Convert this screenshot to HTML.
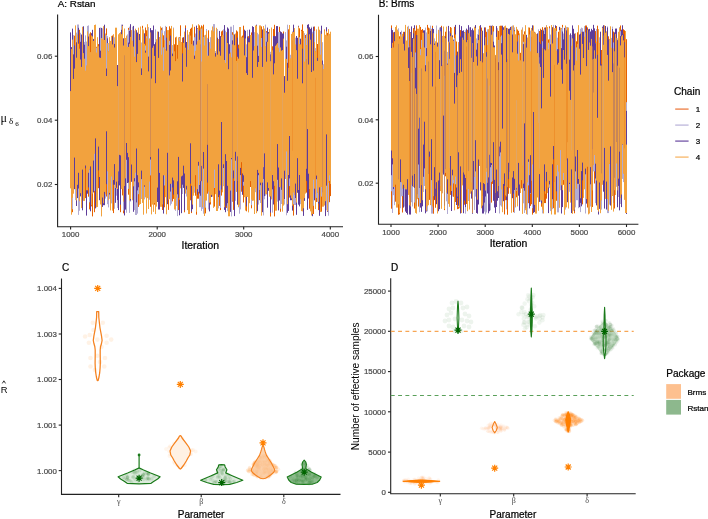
<!DOCTYPE html>
<html><head><meta charset="utf-8"><style>
html,body{margin:0;padding:0;background:#fff;width:708px;height:519px;overflow:hidden}
svg{display:block;filter:blur(0.35px)}
text{font-family:"Liberation Sans",sans-serif}
</style></head><body>
<svg width="708" height="519" viewBox="0 0 708 519">
<path d="M70.5 114.0V159.8M71.5 53.5V174.1M72.5 105.8V212.2M73.5 70.4V185.7M74.5 35.7V178.6M75.5 45.9V165.0M76.5 55.5V199.7M77.5 48.0V169.7M78.5 62.6V172.2M79.5 29.8V208.5M80.5 73.5V165.5M81.5 81.9V204.7M82.5 44.2V185.1M83.5 64.6V180.4M84.5 47.2V198.1M85.5 61.3V198.1M86.5 59.3V142.5M87.5 48.2V183.1M88.5 33.4V196.7M89.5 102.4V209.4M90.5 32.3V168.5M91.5 61.9V206.4M92.5 59.4V216.4M93.5 66.7V168.6M94.5 41.4V212.2M95.5 45.9V198.6M96.5 46.8V149.7M97.5 47.4V188.2M98.5 44.1V188.2M99.5 32.6V176.2M100.5 32.9V182.5M101.5 34.9V146.2M102.5 71.8V199.9M103.5 28.7V175.5M104.5 55.8V190.7M105.5 65.3V188.0M106.5 28.4V196.5M107.5 70.9V191.0M108.5 73.6V183.1M109.5 49.4V166.7M110.5 64.4V200.9M111.5 45.4V203.0M112.5 35.5V191.5M113.5 54.3V213.1M114.5 58.2V202.8M115.5 32.7V169.4M116.5 92.2V179.2M117.5 108.3V205.5M118.5 90.4V188.6M119.5 57.7V184.8M120.5 36.8V212.2M121.5 36.8V176.3M122.5 59.4V195.4M123.5 75.9V213.3M124.5 32.1V139.9M125.5 47.4V178.1M126.5 63.2V189.5M127.5 61.0V161.4M128.5 27.9V194.7M129.5 68.1V194.7M130.5 27.6V184.9M131.5 30.9V133.5M132.5 74.9V199.3M133.5 31.1V210.0M134.5 110.5V202.2M135.5 29.7V140.5M136.5 30.4V168.0M137.5 44.6V194.0M138.5 47.3V206.9M139.5 42.8V203.8M140.5 56.1V180.2M141.5 49.5V198.6M142.5 25.8V165.4M143.5 80.7V206.7M144.5 54.4V174.2M145.5 27.5V195.5M146.5 30.3V161.5M147.5 73.4V170.4M148.5 27.5V165.6M149.5 45.0V166.9M150.5 60.6V206.8M151.5 53.7V176.2M152.5 65.1V142.4M153.5 28.1V191.0M154.5 65.3V204.7M155.5 62.8V193.4M156.5 60.7V157.9M157.5 34.5V151.7M158.5 95.9V208.6M159.5 50.9V207.7M160.5 37.4V193.3M161.5 27.8V182.5M162.5 67.6V210.0M163.5 35.3V190.4M164.5 57.4V207.3M165.5 26.4V166.4M166.5 26.9V175.5M167.5 58.6V162.0M168.5 65.2V209.9M169.5 26.3V173.0M170.5 28.5V169.3M171.5 62.1V195.0M172.5 50.6V201.4M173.5 54.3V198.9M174.5 44.3V196.3M175.5 37.4V183.4M176.5 53.5V189.6M177.5 44.9V180.7M178.5 54.4V210.1M179.5 37.1V174.8M180.5 25.3V162.1M181.5 47.4V144.5M182.5 37.6V190.6M183.5 44.2V183.5M184.5 45.2V212.3M185.5 25.4V190.5M186.5 58.1V180.6M187.5 32.6V200.9M188.5 42.3V184.7M189.5 82.0V207.2M190.5 28.8V200.3M191.5 27.7V213.1M192.5 35.8V207.9M193.5 43.4V182.0M194.5 26.8V143.1M195.5 38.5V195.7M196.5 30.1V214.7M197.5 28.1V198.7M198.5 62.5V198.7M199.5 25.4V170.3M200.5 36.0V174.6M201.5 25.4V155.2M202.5 37.8V180.0M203.5 24.7V190.6M204.5 46.5V213.4M205.5 43.0V213.4M206.5 36.1V168.5M207.5 54.4V193.7M208.5 30.3V203.3M209.5 55.2V194.9M210.5 62.2V204.5M211.5 41.5V164.1M212.5 32.4V164.2M213.5 32.0V178.4M214.5 87.1V206.6M215.5 51.1V159.6M216.5 78.4V205.4M217.5 82.6V201.8M218.5 48.7V201.8M219.5 48.7V205.9M220.5 76.4V210.1M221.5 31.4V195.6M222.5 30.5V190.1M223.5 35.8V167.7M224.5 59.5V182.1M225.5 76.5V208.8M226.5 43.6V207.9M227.5 29.4V144.2M228.5 52.5V167.1M229.5 93.3V201.4M230.5 40.0V167.2M231.5 41.5V131.8M232.5 32.2V175.7M233.5 35.8V209.9M234.5 44.9V180.5M235.5 62.0V155.9M236.5 30.4V145.8M237.5 31.5V183.6M238.5 44.7V192.3M239.5 87.9V188.2M240.5 43.1V191.7M241.5 70.9V191.7M242.5 35.6V176.7M243.5 25.7V202.5M244.5 81.4V186.7M245.5 37.6V192.2M246.5 49.6V211.3M247.5 32.9V164.9M248.5 36.2V182.2M249.5 46.7V194.4M250.5 36.9V187.0M251.5 32.4V208.3M252.5 36.3V124.4M253.5 62.3V173.3M254.5 62.2V213.7M255.5 26.3V152.5M256.5 59.0V168.7M257.5 35.9V202.6M258.5 57.6V202.6M259.5 36.7V200.2M260.5 50.7V200.2M261.5 26.4V190.6M262.5 37.8V199.7M263.5 27.5V200.4M264.5 29.6V171.8M265.5 41.5V153.5M266.5 31.1V194.3M267.5 67.3V169.8M268.5 50.8V184.3M269.5 59.5V168.7M270.5 104.9V216.5M271.5 61.5V164.2M272.5 46.3V157.0M273.5 29.0V186.9M274.5 24.8V216.4M275.5 45.5V184.0M276.5 47.0V165.4M277.5 78.1V186.5M278.5 87.6V188.1M279.5 26.8V170.0M280.5 55.5V211.8M281.5 32.4V179.8M282.5 92.7V207.1M283.5 31.5V159.6M284.5 95.0V197.0M285.5 63.8V143.6M286.5 54.8V203.3M287.5 34.6V209.8M288.5 29.3V207.1M289.5 39.5V197.6M290.5 61.6V162.3M291.5 62.8V177.6M292.5 40.4V150.7M293.5 27.3V215.6M294.5 36.9V174.5M295.5 45.1V189.8M296.5 57.3V174.1M297.5 94.8V179.5M298.5 28.3V191.2M299.5 28.3V185.6M300.5 49.3V165.0M301.5 29.8V184.9M302.5 24.4V172.1M303.5 32.3V188.8M304.5 47.0V197.3M305.5 35.0V185.4M306.5 52.1V192.6M307.5 48.7V197.8M308.5 82.4V190.4M309.5 94.3V208.7M310.5 35.2V165.1M311.5 56.0V168.7M312.5 37.0V190.0M313.5 42.0V214.0M314.5 26.5V197.9M315.5 77.8V193.8M316.5 48.2V202.0M317.5 44.0V152.2M318.5 44.0V210.1M319.5 36.7V167.4M320.5 49.9V211.7M321.5 28.4V211.7M322.5 68.2V182.6M323.5 71.3V173.9M324.5 29.5V173.9M325.5 56.4V203.0M326.5 32.9V191.7M327.5 32.9V170.0M328.5 43.3V212.6M329.5 83.0V202.2M330.5 35.7V196.1" stroke="#E66101" stroke-width="1.0" fill="none"/><path d="M70.5 73.6V164.4M71.5 69.0V194.8M72.5 28.2V209.3M73.5 35.1V158.2M74.5 51.1V179.7M75.5 32.6V200.1M76.5 32.6V155.8M77.5 24.5V164.2M78.5 24.5V214.9M79.5 55.7V210.8M80.5 32.8V188.3M81.5 61.2V180.1M82.5 26.7V181.1M83.5 60.7V182.9M84.5 41.9V161.7M85.5 35.4V151.0M86.5 41.6V182.2M87.5 25.9V187.2M88.5 25.4V137.3M89.5 37.8V202.3M90.5 54.0V202.3M91.5 54.0V196.7M92.5 47.6V188.3M93.5 44.3V189.1M94.5 45.0V190.9M95.5 47.5V184.3M96.5 47.6V203.5M97.5 38.3V185.4M98.5 67.7V163.3M99.5 49.4V191.9M100.5 27.5V160.5M101.5 58.3V171.1M102.5 28.4V164.8M103.5 56.9V162.4M104.5 64.7V198.4M105.5 52.2V198.6M106.5 35.0V165.3M107.5 36.2V204.2M108.5 43.0V207.4M109.5 42.7V198.9M110.5 55.4V152.3M111.5 36.0V203.4M112.5 70.2V206.4M113.5 69.9V159.7M114.5 37.3V208.8M115.5 36.6V182.0M116.5 55.4V195.7M117.5 82.6V208.0M118.5 61.6V181.2M119.5 46.8V182.4M120.5 73.1V201.3M121.5 24.6V169.2M122.5 73.7V186.2M123.5 77.3V210.6M124.5 38.0V194.9M125.5 71.5V172.7M126.5 56.0V212.8M127.5 34.4V170.4M128.5 29.8V188.9M129.5 26.7V212.9M130.5 60.8V201.6M131.5 36.3V173.3M132.5 26.7V165.5M133.5 63.3V184.3M134.5 30.6V210.1M135.5 30.6V215.0M136.5 46.5V215.0M137.5 57.4V213.6M138.5 69.6V194.2M139.5 47.5V177.6M140.5 42.5V203.7M141.5 42.5V198.6M142.5 32.1V193.1M143.5 29.4V193.1M144.5 49.4V199.4M145.5 45.5V179.1M146.5 36.2V161.2M147.5 36.2V157.6M148.5 27.8V188.5M149.5 58.4V199.8M150.5 46.1V175.4M151.5 30.9V200.8M152.5 30.9V149.2M153.5 48.3V211.3M154.5 45.7V180.1M155.5 29.4V156.7M156.5 45.3V182.7M157.5 59.0V185.5M158.5 89.0V196.2M159.5 49.2V167.6M160.5 84.4V167.9M161.5 30.2V168.6M162.5 27.3V199.5M163.5 47.4V196.2M164.5 31.2V185.5M165.5 25.9V176.9M166.5 39.0V159.8M167.5 45.7V183.1M168.5 34.9V174.9M169.5 40.8V188.8M170.5 64.3V205.5M171.5 36.0V203.8M172.5 45.1V183.6M173.5 27.5V149.0M174.5 68.3V192.2M175.5 65.6V210.9M176.5 56.3V205.9M177.5 65.1V216.1M178.5 81.3V190.9M179.5 37.6V179.9M180.5 52.9V175.0M181.5 79.9V198.9M182.5 90.6V194.0M183.5 62.2V135.1M184.5 41.5V179.6M185.5 41.5V161.2M186.5 88.4V196.5M187.5 49.7V192.2M188.5 34.6V168.6M189.5 55.7V201.3M190.5 52.0V175.5M191.5 58.7V200.4M192.5 60.5V200.4M193.5 48.4V192.7M194.5 37.3V192.7M195.5 33.5V148.6M196.5 31.8V209.4M197.5 28.8V182.4M198.5 68.3V191.8M199.5 62.0V207.2M200.5 37.6V207.2M201.5 28.6V210.9M202.5 30.0V208.8M203.5 41.2V213.7M204.5 35.3V203.3M205.5 39.1V207.7M206.5 29.0V196.9M207.5 37.8V176.1M208.5 67.8V209.5M209.5 55.5V203.8M210.5 37.2V177.1M211.5 44.2V192.1M212.5 50.3V188.4M213.5 24.1V167.1M214.5 24.1V188.0M215.5 51.0V191.5M216.5 35.1V174.7M217.5 29.1V184.8M218.5 75.5V208.4M219.5 65.2V187.9M220.5 72.1V208.0M221.5 62.3V182.0M222.5 56.5V186.0M223.5 29.3V186.2M224.5 49.6V181.6M225.5 30.7V193.2M226.5 33.4V156.5M227.5 37.0V211.1M228.5 32.6V209.8M229.5 84.2V190.4M230.5 26.7V159.5M231.5 26.7V216.4M232.5 34.7V157.0M233.5 25.1V147.5M234.5 70.8V215.2M235.5 39.3V200.8M236.5 65.6V139.0M237.5 62.8V181.0M238.5 68.9V207.4M239.5 47.2V213.7M240.5 38.2V209.4M241.5 46.4V150.0M242.5 72.5V156.4M243.5 44.6V185.7M244.5 87.9V187.1M245.5 45.7V187.8M246.5 44.3V151.8M247.5 29.9V147.6M248.5 41.3V163.6M249.5 37.4V194.5M250.5 37.4V155.2M251.5 54.8V205.2M252.5 48.2V177.1M253.5 48.2V178.6M254.5 32.2V208.8M255.5 31.9V192.2M256.5 68.1V192.2M257.5 32.8V147.5M258.5 34.3V204.6M259.5 40.8V177.5M260.5 60.9V203.0M261.5 38.0V154.8M262.5 41.0V151.6M263.5 47.3V215.4M264.5 52.2V199.3M265.5 24.6V195.7M266.5 32.5V181.9M267.5 28.2V155.2M268.5 50.7V150.9M269.5 34.4V169.6M270.5 51.8V171.0M271.5 46.2V192.0M272.5 76.8V212.6M273.5 55.7V193.1M274.5 64.0V182.2M275.5 44.4V202.4M276.5 30.6V197.3M277.5 32.2V201.6M278.5 32.1V195.1M279.5 32.1V200.2M280.5 60.0V208.7M281.5 71.7V204.0M282.5 76.6V199.2M283.5 50.9V204.5M284.5 88.8V204.5M285.5 32.1V159.3M286.5 40.4V215.3M287.5 24.7V211.7M288.5 77.7V169.9M289.5 33.6V186.1M290.5 54.8V190.6M291.5 34.7V179.2M292.5 31.4V204.3M293.5 51.6V204.3M294.5 69.5V205.0M295.5 37.7V205.0M296.5 89.8V204.0M297.5 55.0V186.7M298.5 27.7V133.5M299.5 37.2V205.6M300.5 83.1V204.2M301.5 46.4V197.9M302.5 71.6V188.5M303.5 59.5V209.8M304.5 33.2V155.5M305.5 74.4V184.7M306.5 33.8V115.7M307.5 33.8V149.0M308.5 32.8V147.5M309.5 76.6V176.1M310.5 44.2V211.3M311.5 26.7V184.0M312.5 31.8V188.6M313.5 45.5V205.8M314.5 30.8V175.4M315.5 48.1V199.4M316.5 30.6V197.9M317.5 91.3V201.9M318.5 31.0V199.4M319.5 45.8V215.0M320.5 30.8V197.1M321.5 27.8V196.6M322.5 42.2V186.1M323.5 64.2V189.0M324.5 59.1V166.9M325.5 36.9V182.3M326.5 48.3V210.2M327.5 61.3V210.2M328.5 56.3V215.7M329.5 41.3V180.9M330.5 56.1V168.6" stroke="#B2ABD2" stroke-width="1.0" fill="none"/><path d="M70.5 32.4V115.1M71.5 47.1V163.2M72.5 29.0V178.0M73.5 54.4V184.8M74.5 45.4V189.2M75.5 58.7V187.9M76.5 42.3V206.0M77.5 39.5V198.1M78.5 27.8V188.5M79.5 59.5V188.7M80.5 41.8V196.4M81.5 34.5V171.8M82.5 67.3V210.3M83.5 26.3V168.6M84.5 44.7V174.9M85.5 94.5V168.3M86.5 91.3V215.6M87.5 34.0V193.7M88.5 36.5V187.4M89.5 84.9V169.3M90.5 58.9V211.3M91.5 33.2V203.0M92.5 29.8V185.8M93.5 38.9V192.4M94.5 35.4V148.9M95.5 59.0V208.4M96.5 64.8V187.8M97.5 44.9V206.3M98.5 63.2V170.4M99.5 27.9V200.2M100.5 50.7V162.1M101.5 27.9V206.9M102.5 54.5V206.9M103.5 67.5V205.2M104.5 24.7V205.2M105.5 41.5V184.1M106.5 68.5V184.1M107.5 38.3V169.0M108.5 51.7V170.1M109.5 51.1V194.5M110.5 72.1V171.6M111.5 48.1V159.6M112.5 36.7V158.3M113.5 38.2V184.7M114.5 43.9V184.7M115.5 47.9V202.8M116.5 33.8V187.8M117.5 65.0V200.1M118.5 98.9V210.1M119.5 61.5V185.4M120.5 36.1V204.7M121.5 29.8V154.7M122.5 24.7V162.3M123.5 38.3V178.6M124.5 55.3V215.4M125.5 93.1V209.6M126.5 51.1V159.8M127.5 61.9V183.0M128.5 42.6V182.5M129.5 31.0V169.3M130.5 24.2V200.6M131.5 40.9V181.8M132.5 82.7V188.0M133.5 25.9V211.8M134.5 70.0V181.4M135.5 45.2V153.7M136.5 30.4V202.4M137.5 32.6V190.4M138.5 81.9V187.3M139.5 34.0V170.0M140.5 36.2V155.8M141.5 68.4V179.1M142.5 72.2V187.0M143.5 46.0V172.0M144.5 33.3V186.7M145.5 50.6V166.7M146.5 48.5V164.6M147.5 59.6V166.0M148.5 56.6V199.1M149.5 47.3V176.6M150.5 28.1V159.5M151.5 30.2V203.4M152.5 30.2V194.2M153.5 25.5V178.0M154.5 44.2V162.0M155.5 42.3V190.2M156.5 50.4V190.2M157.5 105.2V202.0M158.5 31.7V209.5M159.5 52.8V209.5M160.5 27.7V181.7M161.5 67.7V172.2M162.5 60.5V174.6M163.5 93.8V213.6M164.5 44.3V164.7M165.5 74.5V189.2M166.5 37.7V192.5M167.5 65.1V204.2M168.5 67.8V187.4M169.5 44.9V189.3M170.5 35.6V191.6M171.5 38.1V176.0M172.5 53.6V187.5M173.5 59.0V194.6M174.5 75.2V194.6M175.5 70.9V169.7M176.5 53.5V183.3M177.5 76.4V194.3M178.5 45.6V197.9M179.5 54.0V215.3M180.5 56.0V160.2M181.5 59.8V213.2M182.5 53.4V184.7M183.5 37.2V187.9M184.5 67.2V210.3M185.5 28.1V169.0M186.5 42.0V189.5M187.5 42.0V203.4M188.5 58.4V178.8M189.5 59.3V209.4M190.5 66.9V183.6M191.5 50.9V211.6M192.5 46.7V209.2M193.5 40.7V157.9M194.5 55.6V166.7M195.5 81.7V171.4M196.5 25.6V155.3M197.5 87.1V194.6M198.5 53.5V165.7M199.5 30.6V193.5M200.5 44.4V195.7M201.5 62.3V181.2M202.5 50.6V192.5M203.5 50.6V168.6M204.5 59.4V159.0M205.5 40.0V184.4M206.5 84.1V162.5M207.5 84.1V182.5M208.5 39.2V140.2M209.5 44.2V211.4M210.5 63.5V171.4M211.5 45.9V197.0M212.5 40.9V191.5M213.5 31.9V163.5M214.5 37.8V163.5M215.5 53.1V183.5M216.5 37.7V177.6M217.5 37.7V189.3M218.5 65.2V197.1M219.5 30.9V194.8M220.5 36.1V182.4M221.5 40.4V189.5M222.5 64.2V156.9M223.5 40.4V168.0M224.5 25.1V209.9M225.5 87.0V212.2M226.5 59.0V205.7M227.5 27.4V203.2M228.5 28.6V202.6M229.5 44.3V184.4M230.5 64.4V211.9M231.5 70.7V159.2M232.5 40.4V201.5M233.5 55.8V178.4M234.5 34.4V216.1M235.5 37.7V160.7M236.5 81.2V165.2M237.5 37.6V204.7M238.5 48.5V166.3M239.5 58.0V172.3M240.5 38.1V175.1M241.5 47.4V134.1M242.5 38.0V194.8M243.5 57.8V181.8M244.5 29.7V196.4M245.5 30.8V159.3M246.5 57.2V206.4M247.5 36.5V189.8M248.5 38.1V208.8M249.5 29.6V157.2M250.5 79.8V162.1M251.5 54.4V157.5M252.5 26.2V122.2M253.5 27.0V150.2M254.5 72.7V166.7M255.5 36.0V170.1M256.5 24.7V171.0M257.5 45.7V211.2M258.5 55.9V175.2M259.5 30.5V184.4M260.5 53.3V185.2M261.5 48.0V159.8M262.5 29.4V212.2M263.5 63.1V179.0M264.5 45.5V196.1M265.5 57.7V168.6M266.5 41.7V157.0M267.5 27.6V207.7M268.5 32.0V190.8M269.5 62.6V191.0M270.5 54.4V212.6M271.5 34.5V167.5M272.5 60.7V189.3M273.5 36.1V204.5M274.5 36.1V155.6M275.5 36.2V202.6M276.5 26.1V166.5M277.5 26.1V179.8M278.5 55.1V210.4M279.5 56.1V200.5M280.5 31.4V187.1M281.5 32.3V189.8M282.5 33.5V192.5M283.5 33.5V198.1M284.5 76.1V199.0M285.5 63.8V154.7M286.5 46.7V132.0M287.5 62.8V212.8M288.5 96.6V210.9M289.5 32.6V178.4M290.5 87.3V200.2M291.5 47.2V200.2M292.5 47.2V210.6M293.5 24.7V156.6M294.5 32.3V194.5M295.5 63.5V198.0M296.5 36.0V214.8M297.5 37.8V192.8M298.5 25.8V204.7M299.5 57.7V206.4M300.5 38.7V188.1M301.5 46.4V151.3M302.5 48.7V197.4M303.5 63.7V215.9M304.5 66.4V200.9M305.5 48.5V192.7M306.5 59.0V180.8M307.5 24.8V209.9M308.5 24.2V198.5M309.5 27.3V176.9M310.5 28.9V178.0M311.5 27.9V177.6M312.5 88.1V216.2M313.5 26.7V178.3M314.5 52.3V200.3M315.5 51.6V205.2M316.5 56.8V179.2M317.5 57.9V192.4M318.5 54.9V203.4M319.5 45.7V215.8M320.5 79.3V172.9M321.5 25.7V171.6M322.5 60.6V192.3M323.5 91.7V168.0M324.5 35.0V189.2M325.5 35.8V216.1M326.5 27.2V185.7M327.5 54.6V211.9M328.5 43.9V138.1M329.5 41.8V152.0M330.5 85.9V143.0" stroke="#5E3C99" stroke-width="1.0" fill="none"/><path d="M70.5 91.1V188.4M71.5 49.1V214.7M72.5 39.6V197.8M73.5 78.9V193.7M74.5 68.6V157.6M75.5 25.4V188.9M76.5 57.7V200.4M77.5 34.4V184.8M78.5 43.7V172.8M79.5 48.7V201.2M80.5 59.5V193.2M81.5 66.9V208.1M82.5 27.0V169.6M83.5 53.1V200.9M84.5 58.7V200.9M85.5 70.6V165.5M86.5 65.4V190.3M87.5 31.4V190.3M88.5 46.1V172.8M89.5 33.6V169.3M90.5 52.1V166.4M91.5 35.4V205.2M92.5 36.5V193.6M93.5 41.0V160.6M94.5 25.0V153.8M95.5 24.6V138.4M96.5 52.6V207.4M97.5 37.2V206.9M98.5 46.3V146.6M99.5 57.5V177.0M100.5 57.9V204.5M101.5 38.0V216.4M102.5 39.2V197.5M103.5 26.2V203.3M104.5 40.0V191.9M105.5 33.5V194.2M106.5 76.0V131.3M107.5 43.1V171.3M108.5 51.3V200.2M109.5 37.2V192.9M110.5 40.9V210.4M111.5 35.9V176.5M112.5 44.4V210.7M113.5 34.2V180.1M114.5 47.5V164.1M115.5 27.7V188.0M116.5 27.7V181.7M117.5 86.1V189.0M118.5 34.3V171.4M119.5 33.1V154.9M120.5 32.2V155.4M121.5 34.2V189.1M122.5 25.8V188.9M123.5 45.5V201.7M124.5 28.5V186.0M125.5 37.9V178.4M126.5 35.6V143.0M127.5 46.9V152.9M128.5 46.9V157.2M129.5 43.8V200.5M130.5 36.9V199.0M131.5 30.1V164.5M132.5 40.7V200.3M133.5 46.6V186.3M134.5 56.7V178.2M135.5 28.7V172.7M136.5 62.1V148.5M137.5 53.9V175.2M138.5 27.7V182.4M139.5 40.1V204.8M140.5 26.5V204.0M141.5 75.0V170.6M142.5 28.0V202.9M143.5 30.4V214.7M144.5 43.8V185.4M145.5 52.7V197.4M146.5 38.3V213.5M147.5 24.2V198.2M148.5 71.4V209.0M149.5 38.4V181.6M150.5 32.4V157.0M151.5 78.5V214.4M152.5 47.8V204.6M153.5 45.7V211.8M154.5 55.9V203.1M155.5 83.2V214.1M156.5 39.2V206.6M157.5 31.5V187.6M158.5 57.9V148.6M159.5 37.0V172.9M160.5 26.4V206.8M161.5 54.7V206.8M162.5 33.3V204.4M163.5 70.7V175.3M164.5 40.2V175.3M165.5 49.0V197.2M166.5 50.7V214.3M167.5 30.1V152.8M168.5 30.1V199.7M169.5 75.4V199.2M170.5 70.5V183.8M171.5 25.9V183.8M172.5 56.1V177.6M173.5 28.5V180.4M174.5 51.3V209.5M175.5 61.1V209.3M176.5 36.7V197.7M177.5 58.7V181.3M178.5 37.4V156.9M179.5 40.9V199.7M180.5 35.9V188.3M181.5 42.0V176.4M182.5 81.5V175.6M183.5 42.8V165.7M184.5 31.6V173.5M185.5 47.7V193.6M186.5 66.8V185.8M187.5 30.1V210.1M188.5 49.7V214.0M189.5 31.9V214.0M190.5 35.6V143.3M191.5 44.1V185.8M192.5 24.3V204.6M193.5 45.5V195.7M194.5 58.9V186.5M195.5 50.9V175.2M196.5 44.6V211.9M197.5 41.2V189.2M198.5 24.2V161.8M199.5 39.8V185.0M200.5 27.4V181.2M201.5 61.5V165.9M202.5 26.3V207.0M203.5 36.9V152.0M204.5 45.5V216.0M205.5 34.8V200.6M206.5 31.1V200.6M207.5 55.7V144.8M208.5 55.7V191.6M209.5 42.1V202.7M210.5 48.6V202.2M211.5 30.4V194.9M212.5 26.5V196.7M213.5 31.4V207.9M214.5 27.5V169.6M215.5 56.6V194.2M216.5 27.8V211.0M217.5 54.6V211.0M218.5 39.0V164.3M219.5 51.4V190.6M220.5 55.7V185.4M221.5 36.8V122.0M222.5 35.2V192.3M223.5 35.2V164.3M224.5 60.0V207.3M225.5 62.9V154.2M226.5 32.2V161.0M227.5 43.0V185.8M228.5 69.2V216.3M229.5 53.7V216.3M230.5 52.5V190.6M231.5 57.4V158.1M232.5 44.4V201.2M233.5 33.9V170.5M234.5 45.2V180.9M235.5 33.5V151.8M236.5 60.9V191.9M237.5 56.8V156.4M238.5 58.6V207.0M239.5 27.0V204.8M240.5 27.0V167.9M241.5 36.6V162.2M242.5 37.5V173.5M243.5 37.5V175.3M244.5 55.4V197.2M245.5 38.5V210.6M246.5 73.1V196.8M247.5 75.0V197.0M248.5 42.2V212.4M249.5 42.3V203.2M250.5 35.0V181.1M251.5 35.0V199.7M252.5 77.8V200.9M253.5 50.5V200.6M254.5 46.1V213.7M255.5 25.5V188.4M256.5 25.5V213.2M257.5 66.9V169.9M258.5 62.0V172.9M259.5 25.4V190.0M260.5 25.4V182.7M261.5 47.1V215.7M262.5 66.9V182.6M263.5 26.0V167.2M264.5 28.6V153.4M265.5 46.2V193.9M266.5 61.7V193.9M267.5 41.8V182.4M268.5 33.5V188.0M269.5 29.1V196.7M270.5 61.2V196.4M271.5 27.5V199.4M272.5 50.3V175.0M273.5 74.4V181.2M274.5 63.3V185.8M275.5 45.8V210.7M276.5 44.5V210.7M277.5 43.1V144.1M278.5 47.8V167.5M279.5 52.2V187.2M280.5 47.4V187.2M281.5 50.7V178.4M282.5 50.0V211.6M283.5 38.6V205.6M284.5 92.7V170.7M285.5 58.8V179.0M286.5 58.9V151.4M287.5 80.8V204.2M288.5 67.8V175.0M289.5 25.0V136.0M290.5 58.3V195.5M291.5 33.9V198.4M292.5 32.1V205.6M293.5 32.1V192.6M294.5 28.1V195.1M295.5 44.4V183.6M296.5 50.2V202.6M297.5 78.7V158.2M298.5 26.5V190.0M299.5 44.1V175.0M300.5 44.4V199.2M301.5 31.0V211.1M302.5 83.3V211.4M303.5 31.0V208.3M304.5 61.6V198.2M305.5 38.0V193.6M306.5 45.0V168.8M307.5 28.4V129.1M308.5 64.5V173.7M309.5 34.3V189.1M310.5 39.7V211.2M311.5 72.0V215.5M312.5 33.5V213.9M313.5 70.6V179.7M314.5 42.1V188.7M315.5 51.2V209.1M316.5 29.4V175.6M317.5 60.9V192.6M318.5 26.6V201.9M319.5 29.7V187.4M320.5 54.6V211.8M321.5 33.8V187.0M322.5 64.6V206.7M323.5 69.1V206.7M324.5 30.3V205.5M325.5 34.8V201.2M326.5 31.4V134.4M327.5 35.5V211.2M328.5 29.1V182.9M329.5 33.8V175.3M330.5 31.7V184.0" stroke="#F2A23E" stroke-width="1.0" fill="none"/><path d="M124.5 55.3V215.4M150.5 28.1V159.5M200.5 44.4V195.7M207.5 84.1V182.5M232.5 40.4V201.5M306.5 59.0V180.8M322.5 60.6V192.3" stroke="#5E3C99" stroke-width="1.0" fill="none" stroke-opacity="0.22"/><path d="M118.5 61.6V181.2M168.5 34.9V174.9M201.5 28.6V210.9M237.5 62.8V181.0M263.5 47.3V215.4M270.5 51.8V171.0M282.5 76.6V199.2" stroke="#B2ABD2" stroke-width="1.0" fill="none" stroke-opacity="0.22"/><path d="M130.5 27.6V184.9M292.5 40.4V150.7M315.5 77.8V193.8" stroke="#E66101" stroke-width="1.0" fill="none" stroke-opacity="0.22"/><path d="M57.6 14.4V226.7H343" stroke="#222" stroke-width="1.1" fill="none"/><path d="M54.8 184.5H57.6" stroke="#222" stroke-width="1.1"/><text x="52.4" y="187.35" font-size="7.9" text-anchor="end" fill="#4a4a4a" stroke="#4a4a4a" stroke-width="0.22" >0.02</text><path d="M54.8 120.2H57.6" stroke="#222" stroke-width="1.1"/><text x="52.4" y="123.05" font-size="7.9" text-anchor="end" fill="#4a4a4a" stroke="#4a4a4a" stroke-width="0.22" >0.04</text><path d="M54.8 56.2H57.6" stroke="#222" stroke-width="1.1"/><text x="52.4" y="59.050000000000004" font-size="7.9" text-anchor="end" fill="#4a4a4a" stroke="#4a4a4a" stroke-width="0.22" >0.06</text><path d="M70.6 226.7V229.5" stroke="#222" stroke-width="1.1"/><text x="70.6" y="237.0" font-size="7.9" text-anchor="middle" fill="#4a4a4a" stroke="#4a4a4a" stroke-width="0.22" >1000</text><path d="M157.2 226.7V229.5" stroke="#222" stroke-width="1.1"/><text x="157.2" y="237.0" font-size="7.9" text-anchor="middle" fill="#4a4a4a" stroke="#4a4a4a" stroke-width="0.22" >2000</text><path d="M243.7 226.7V229.5" stroke="#222" stroke-width="1.1"/><text x="243.7" y="237.0" font-size="7.9" text-anchor="middle" fill="#4a4a4a" stroke="#4a4a4a" stroke-width="0.22" >3000</text><path d="M330.3 226.7V229.5" stroke="#222" stroke-width="1.1"/><text x="330.3" y="237.0" font-size="7.9" text-anchor="middle" fill="#4a4a4a" stroke="#4a4a4a" stroke-width="0.22" >4000</text><text x="57.8" y="7.3" font-size="9.85" text-anchor="start" fill="#000" stroke="#000" stroke-width="0.22" >A: Rstan</text><text x="200.3" y="249.2" font-size="10.4" text-anchor="middle" fill="#000" stroke="#000" stroke-width="0.22" >Iteration</text><text x="0.6" y="122.2" font-size="12" style="font-family:'Liberation Serif',serif">μ</text><text x="9.0" y="123.9" font-size="9" style="font-family:'Liberation Serif',serif">δ</text><text x="15.3" y="125.6" font-size="7" style="font-family:'Liberation Serif',serif">6</text><path d="M391.5 25.4V208.7M392.5 40.0V132.0M393.5 32.3V162.0M394.5 32.5V191.3M395.5 37.6V201.7M396.5 35.8V156.5M397.5 38.8V203.5M398.5 92.3V214.8M399.5 36.3V214.3M400.5 32.3V170.9M401.5 32.3V162.7M402.5 62.6V212.5M403.5 31.8V168.6M404.5 47.5V172.8M405.5 35.3V173.2M406.5 56.7V200.4M407.5 34.9V208.3M408.5 38.0V182.6M409.5 28.9V197.3M410.5 46.9V205.0M411.5 45.7V164.4M412.5 49.0V205.1M413.5 28.1V144.4M414.5 26.7V208.5M415.5 30.7V200.7M416.5 25.4V198.6M417.5 32.5V129.9M418.5 48.0V206.6M419.5 28.9V186.6M420.5 26.9V175.2M421.5 29.9V158.9M422.5 29.0V126.8M423.5 38.2V151.3M424.5 36.0V171.7M425.5 30.7V199.0M426.5 50.5V135.9M427.5 24.9V130.5M428.5 27.6V182.0M429.5 30.6V199.9M430.5 35.6V179.0M431.5 39.8V180.5M432.5 25.8V183.8M433.5 54.7V213.7M434.5 57.8V200.1M435.5 51.9V207.7M436.5 36.5V163.9M437.5 88.5V201.3M438.5 59.3V187.0M439.5 85.4V190.1M440.5 62.3V173.2M441.5 25.8V180.1M442.5 64.9V172.8M443.5 41.9V144.0M444.5 96.7V210.1M445.5 31.7V176.3M446.5 75.0V191.9M447.5 57.1V207.3M448.5 57.5V194.0M449.5 33.3V159.4M450.5 27.0V194.9M451.5 36.2V170.3M452.5 37.2V146.2M453.5 58.8V196.8M454.5 26.8V209.3M455.5 26.8V202.0M456.5 41.5V155.7M457.5 66.0V209.2M458.5 89.0V208.8M459.5 26.0V201.3M460.5 30.1V174.7M461.5 26.8V187.6M462.5 76.9V173.4M463.5 39.8V183.6M464.5 32.3V204.7M465.5 48.3V191.5M466.5 46.5V204.0M467.5 29.8V114.7M468.5 39.2V176.5M469.5 29.9V203.0M470.5 40.4V146.5M471.5 34.2V182.9M472.5 43.0V207.9M473.5 31.5V165.2M474.5 77.4V186.9M475.5 63.8V180.3M476.5 51.9V212.8M477.5 67.9V206.2M478.5 46.2V172.1M479.5 46.2V145.6M480.5 30.8V110.4M481.5 27.6V187.0M482.5 59.2V195.9M483.5 108.6V212.4M484.5 28.9V159.6M485.5 27.4V177.8M486.5 31.8V183.9M487.5 59.4V190.0M488.5 41.0V194.6M489.5 25.8V159.9M490.5 56.4V150.7M491.5 50.8V202.6M492.5 42.1V183.9M493.5 26.1V179.2M494.5 61.7V167.0M495.5 58.4V203.6M496.5 71.4V202.0M497.5 31.8V137.8M498.5 30.9V196.1M499.5 90.6V209.6M500.5 25.7V193.9M501.5 25.7V125.0M502.5 32.6V185.0M503.5 32.6V145.6M504.5 44.6V214.4M505.5 39.3V200.2M506.5 27.8V179.6M507.5 59.1V214.7M508.5 32.5V193.8M509.5 32.5V184.8M510.5 52.6V182.3M511.5 74.5V211.1M512.5 50.2V195.9M513.5 30.5V212.2M514.5 69.1V170.9M515.5 41.0V189.7M516.5 55.1V197.3M517.5 29.5V169.6M518.5 30.8V142.7M519.5 36.7V191.6M520.5 52.8V192.7M521.5 50.7V188.5M522.5 43.8V181.6M523.5 34.4V194.1M524.5 31.4V189.7M525.5 31.4V189.3M526.5 34.8V172.7M527.5 53.3V196.4M528.5 32.8V203.2M529.5 27.6V149.7M530.5 46.7V205.9M531.5 36.9V204.2M532.5 34.6V214.6M533.5 67.0V193.7M534.5 31.8V163.2M535.5 58.0V141.8M536.5 39.2V187.9M537.5 46.8V138.7M538.5 38.4V184.0M539.5 31.0V151.1M540.5 28.7V129.2M541.5 31.3V206.7M542.5 27.2V191.9M543.5 36.4V172.2M544.5 27.6V203.1M545.5 70.7V203.1M546.5 60.1V198.7M547.5 28.7V166.7M548.5 39.5V174.7M549.5 26.3V176.4M550.5 36.5V160.8M551.5 43.6V210.8M552.5 57.8V208.2M553.5 33.2V208.2M554.5 64.9V182.0M555.5 47.1V178.7M556.5 26.0V200.8M557.5 52.8V180.7M558.5 31.8V172.8M559.5 27.4V204.5M560.5 42.8V183.3M561.5 28.3V141.3M562.5 24.9V171.4M563.5 41.4V184.8M564.5 42.1V197.2M565.5 35.1V165.2M566.5 54.6V160.3M567.5 29.3V142.2M568.5 39.8V200.0M569.5 47.6V163.4M570.5 37.0V170.4M571.5 36.2V156.9M572.5 28.9V180.5M573.5 53.6V185.8M574.5 73.7V213.3M575.5 87.6V205.3M576.5 41.3V168.8M577.5 32.3V176.2M578.5 70.0V195.4M579.5 50.7V195.4M580.5 59.6V198.6M581.5 67.3V203.7M582.5 70.5V204.4M583.5 59.9V184.0M584.5 57.8V171.7M585.5 25.5V184.8M586.5 25.5V133.8M587.5 27.4V207.5M588.5 59.4V191.4M589.5 53.5V192.0M590.5 68.7V173.7M591.5 29.6V136.0M592.5 46.2V207.0M593.5 32.7V141.7M594.5 31.5V183.5M595.5 31.1V179.1M596.5 33.0V167.3M597.5 25.7V160.1M598.5 42.9V150.7M599.5 53.1V177.6M600.5 44.0V199.4M601.5 50.0V154.1M602.5 37.7V179.9M603.5 47.9V185.4M604.5 73.6V197.8M605.5 30.0V180.3M606.5 41.5V168.7M607.5 60.0V205.1M608.5 36.3V162.4M609.5 47.6V142.4M610.5 28.3V181.3M611.5 43.6V157.7M612.5 53.9V181.5M613.5 31.6V181.1M614.5 58.9V208.5M615.5 34.6V154.7M616.5 32.7V163.9M617.5 50.5V191.4M618.5 50.8V146.0M619.5 34.7V191.4M620.5 25.5V118.2M621.5 33.6V166.6M622.5 42.9V165.0M623.5 29.3V159.2M624.5 30.3V148.3M625.5 55.9V187.7M626.5 39.2V196.1" stroke="#E66101" stroke-width="1.0" fill="none"/><path d="M391.5 31.3V191.3M392.5 47.6V213.0M393.5 47.8V195.2M394.5 104.3V205.2M395.5 46.6V173.0M396.5 52.7V176.6M397.5 61.2V169.8M398.5 28.3V199.0M399.5 54.1V170.0M400.5 78.8V208.2M401.5 30.6V196.3M402.5 36.4V196.1M403.5 40.3V206.6M404.5 38.4V206.6M405.5 50.1V199.4M406.5 46.8V178.7M407.5 30.5V170.8M408.5 25.8V128.3M409.5 46.6V209.2M410.5 74.9V171.3M411.5 72.9V202.2M412.5 48.8V206.5M413.5 50.7V176.6M414.5 27.9V202.5M415.5 52.5V185.1M416.5 64.7V193.3M417.5 42.9V194.1M418.5 39.6V198.1M419.5 68.2V212.2M420.5 49.1V204.4M421.5 39.9V170.9M422.5 52.2V184.5M423.5 34.1V192.0M424.5 30.0V186.0M425.5 27.6V163.6M426.5 32.4V178.1M427.5 70.5V211.3M428.5 80.3V201.2M429.5 30.5V129.5M430.5 25.6V162.0M431.5 46.6V213.6M432.5 107.3V213.6M433.5 32.7V132.6M434.5 38.4V195.5M435.5 58.3V192.1M436.5 25.5V197.8M437.5 67.2V209.3M438.5 50.3V209.3M439.5 27.6V138.5M440.5 27.9V186.1M441.5 30.6V199.9M442.5 42.1V193.0M443.5 40.7V171.9M444.5 75.7V193.2M445.5 49.5V167.1M446.5 53.7V201.3M447.5 51.9V214.0M448.5 59.1V187.6M449.5 31.3V168.1M450.5 35.3V161.8M451.5 63.5V203.4M452.5 66.8V196.5M453.5 39.2V183.4M454.5 38.1V146.3M455.5 42.8V184.3M456.5 58.7V171.2M457.5 57.4V176.0M458.5 61.4V207.0M459.5 33.6V154.8M460.5 41.5V167.0M461.5 83.6V205.7M462.5 73.6V153.2M463.5 37.7V188.4M464.5 33.0V174.6M465.5 30.3V213.7M466.5 33.6V150.0M467.5 78.6V208.7M468.5 50.5V201.0M469.5 27.4V172.2M470.5 43.9V138.1M471.5 30.3V182.5M472.5 69.5V177.2M473.5 30.3V181.4M474.5 66.2V209.9M475.5 56.9V196.6M476.5 38.4V209.4M477.5 34.2V144.1M478.5 29.3V170.3M479.5 31.6V91.5M480.5 31.7V155.7M481.5 52.4V206.0M482.5 51.0V175.3M483.5 57.5V165.9M484.5 80.9V211.6M485.5 82.2V214.4M486.5 56.4V212.4M487.5 29.3V177.1M488.5 32.7V187.4M489.5 85.5V203.7M490.5 40.0V210.3M491.5 40.0V181.9M492.5 24.9V140.0M493.5 31.5V171.9M494.5 55.7V202.6M495.5 114.3V199.9M496.5 59.2V186.5M497.5 28.1V191.8M498.5 39.9V181.4M499.5 39.9V213.4M500.5 39.0V205.4M501.5 35.4V206.6M502.5 45.0V173.4M503.5 29.6V161.5M504.5 27.7V180.8M505.5 37.6V161.1M506.5 74.9V209.3M507.5 44.1V165.1M508.5 28.6V91.0M509.5 36.4V171.5M510.5 34.1V188.0M511.5 64.2V208.1M512.5 25.5V137.4M513.5 30.2V168.5M514.5 27.4V213.0M515.5 37.6V200.1M516.5 100.2V190.6M517.5 89.2V206.6M518.5 35.2V195.5M519.5 40.8V144.3M520.5 81.2V189.6M521.5 37.2V172.2M522.5 27.3V165.5M523.5 41.8V203.3M524.5 95.5V213.0M525.5 35.8V198.9M526.5 46.7V196.7M527.5 47.9V214.7M528.5 43.0V185.4M529.5 38.6V146.8M530.5 30.6V193.8M531.5 43.5V152.3M532.5 46.7V208.2M533.5 45.6V206.9M534.5 32.2V178.3M535.5 81.6V211.4M536.5 50.7V200.7M537.5 50.7V188.7M538.5 29.4V122.9M539.5 57.3V168.6M540.5 58.7V201.7M541.5 38.7V195.0M542.5 41.2V213.4M543.5 29.4V190.6M544.5 29.4V171.6M545.5 44.6V156.9M546.5 66.7V156.2M547.5 50.8V192.9M548.5 42.7V183.3M549.5 28.3V188.1M550.5 34.6V211.1M551.5 52.4V209.2M552.5 36.6V209.2M553.5 24.9V141.0M554.5 31.7V164.9M555.5 34.1V187.0M556.5 30.8V182.5M557.5 37.7V212.4M558.5 60.1V212.4M559.5 43.2V205.8M560.5 45.5V190.2M561.5 28.8V211.9M562.5 27.3V141.3M563.5 33.5V180.1M564.5 28.5V191.3M565.5 48.2V209.6M566.5 26.9V193.7M567.5 33.9V174.1M568.5 35.3V191.8M569.5 34.8V191.8M570.5 59.7V196.5M571.5 35.0V150.4M572.5 54.5V163.9M573.5 52.2V181.2M574.5 38.6V144.6M575.5 46.5V207.4M576.5 47.4V200.2M577.5 59.9V200.2M578.5 44.3V208.2M579.5 39.4V180.1M580.5 28.8V212.1M581.5 27.6V154.0M582.5 28.2V128.4M583.5 33.2V134.0M584.5 26.1V175.9M585.5 32.9V213.5M586.5 40.7V160.8M587.5 37.6V156.4M588.5 40.1V159.9M589.5 30.8V212.1M590.5 35.3V206.5M591.5 56.3V151.9M592.5 46.5V181.2M593.5 33.3V171.4M594.5 56.6V171.4M595.5 43.2V203.1M596.5 29.0V187.5M597.5 72.6V203.6M598.5 77.3V213.1M599.5 37.3V206.2M600.5 59.2V206.2M601.5 70.1V209.6M602.5 45.7V147.1M603.5 35.4V181.1M604.5 71.7V179.3M605.5 62.5V173.6M606.5 43.4V143.1M607.5 26.4V213.1M608.5 54.8V213.1M609.5 52.8V204.6M610.5 49.7V154.8M611.5 37.9V149.8M612.5 26.6V169.6M613.5 42.4V209.8M614.5 46.7V187.3M615.5 50.3V174.0M616.5 34.8V186.8M617.5 38.3V198.9M618.5 46.6V197.0M619.5 27.0V175.7M620.5 31.2V204.0M621.5 35.5V144.5M622.5 47.5V178.9M623.5 49.5V182.1M624.5 47.5V195.5M625.5 80.3V206.9M626.5 102.2V210.4" stroke="#B2ABD2" stroke-width="1.0" fill="none"/><path d="M391.5 28.2V175.2M392.5 30.1V164.4M393.5 52.4V189.1M394.5 31.9V136.2M395.5 28.2V171.5M396.5 83.5V185.5M397.5 32.5V181.4M398.5 43.9V179.4M399.5 43.1V182.1M400.5 32.2V182.1M401.5 49.5V159.0M402.5 35.7V181.0M403.5 36.5V207.6M404.5 31.8V184.8M405.5 30.5V211.6M406.5 77.4V213.0M407.5 70.8V214.6M408.5 47.5V186.9M409.5 46.7V214.5M410.5 32.3V214.5M411.5 26.4V181.3M412.5 38.0V186.2M413.5 33.3V163.9M414.5 25.3V187.8M415.5 67.8V196.1M416.5 35.1V206.1M417.5 35.1V194.2M418.5 84.6V164.5M419.5 29.0V188.0M420.5 64.2V207.6M421.5 68.5V211.8M422.5 99.7V206.3M423.5 30.4V176.8M424.5 30.5V168.4M425.5 65.2V213.3M426.5 48.1V211.5M427.5 37.7V186.1M428.5 61.5V174.0M429.5 34.8V156.7M430.5 30.9V205.1M431.5 49.7V180.1M432.5 28.0V170.9M433.5 29.0V165.9M434.5 43.5V199.7M435.5 86.7V196.2M436.5 41.5V204.2M437.5 42.6V185.6M438.5 58.4V211.2M439.5 60.2V209.2M440.5 27.3V162.4M441.5 27.5V206.6M442.5 42.6V169.5M443.5 41.0V174.6M444.5 50.7V205.7M445.5 36.6V169.2M446.5 67.5V188.4M447.5 63.6V193.8M448.5 25.9V153.3M449.5 42.4V168.2M450.5 33.1V185.5M451.5 33.1V211.0M452.5 35.4V175.3M453.5 40.2V168.7M454.5 72.9V170.2M455.5 24.9V145.6M456.5 55.4V205.0M457.5 51.7V197.8M458.5 76.5V205.6M459.5 24.9V186.1M460.5 36.5V213.5M461.5 26.2V166.8M462.5 30.9V162.6M463.5 30.4V213.2M464.5 81.7V200.6M465.5 52.7V207.1M466.5 28.6V175.2M467.5 56.4V191.3M468.5 25.2V171.1M469.5 51.0V148.6M470.5 27.2V168.4M471.5 30.2V198.6M472.5 28.6V213.7M473.5 30.5V189.7M474.5 38.4V148.1M475.5 25.1V171.4M476.5 49.7V212.9M477.5 43.2V213.7M478.5 34.8V204.5M479.5 39.4V165.0M480.5 25.1V190.4M481.5 61.4V177.8M482.5 30.7V213.5M483.5 68.7V213.5M484.5 27.4V202.6M485.5 60.6V196.5M486.5 52.3V168.1M487.5 78.5V193.4M488.5 48.3V213.3M489.5 38.5V211.2M490.5 25.8V167.2M491.5 25.8V165.0M492.5 37.6V155.7M493.5 41.7V200.8M494.5 45.5V207.5M495.5 55.6V212.9M496.5 26.1V207.0M497.5 66.3V200.7M498.5 62.3V198.0M499.5 41.1V156.3M500.5 37.4V152.4M501.5 43.2V138.4M502.5 25.7V184.8M503.5 27.3V201.2M504.5 32.1V185.9M505.5 30.8V189.4M506.5 28.2V200.1M507.5 64.1V200.1M508.5 29.0V179.2M509.5 28.6V171.9M510.5 26.9V157.6M511.5 34.1V134.6M512.5 34.5V198.2M513.5 88.9V193.7M514.5 30.2V190.0M515.5 34.7V135.6M516.5 58.0V189.7M517.5 41.5V191.4M518.5 60.9V195.6M519.5 39.1V210.7M520.5 63.3V173.0M521.5 37.3V179.9M522.5 43.1V166.1M523.5 44.1V188.0M524.5 69.9V190.7M525.5 43.5V208.1M526.5 35.0V167.6M527.5 77.1V175.3M528.5 69.9V161.8M529.5 71.0V208.4M530.5 59.6V193.2M531.5 68.6V177.3M532.5 25.3V158.6M533.5 54.6V212.9M534.5 32.4V212.1M535.5 34.8V162.1M536.5 42.9V189.3M537.5 33.4V132.9M538.5 66.8V188.6M539.5 42.1V201.9M540.5 44.0V158.4M541.5 29.9V203.4M542.5 60.8V186.6M543.5 30.7V152.0M544.5 34.0V191.2M545.5 27.4V164.4M546.5 25.6V181.3M547.5 40.8V161.3M548.5 66.1V213.1M549.5 61.6V184.4M550.5 44.3V171.8M551.5 26.1V159.9M552.5 27.2V199.2M553.5 56.9V159.4M554.5 36.6V180.1M555.5 25.3V175.0M556.5 62.7V191.3M557.5 49.2V151.6M558.5 49.2V168.1M559.5 26.9V181.1M560.5 43.4V141.2M561.5 48.1V213.5M562.5 31.5V207.1M563.5 39.4V130.0M564.5 27.9V128.9M565.5 30.4V204.7M566.5 30.4V200.2M567.5 27.5V202.2M568.5 58.6V191.4M569.5 59.6V184.0M570.5 33.4V187.9M571.5 64.0V213.1M572.5 25.4V203.8M573.5 28.8V197.8M574.5 33.7V210.7M575.5 46.6V171.4M576.5 68.5V178.8M577.5 86.1V183.8M578.5 29.8V183.8M579.5 34.5V207.2M580.5 33.7V202.9M581.5 56.5V206.3M582.5 31.7V180.3M583.5 31.7V185.1M584.5 62.7V188.6M585.5 44.3V174.3M586.5 27.0V203.6M587.5 40.4V163.3M588.5 29.3V190.6M589.5 28.9V173.9M590.5 31.5V184.3M591.5 28.8V183.1M592.5 30.2V149.3M593.5 24.9V92.5M594.5 28.4V119.3M595.5 43.2V178.5M596.5 101.5V205.4M597.5 54.8V206.9M598.5 42.3V214.5M599.5 49.7V208.9M600.5 31.7V204.6M601.5 64.5V173.4M602.5 26.7V155.7M603.5 25.2V191.7M604.5 48.6V208.6M605.5 26.0V176.7M606.5 55.5V209.5M607.5 27.5V135.5M608.5 39.4V201.3M609.5 70.7V163.8M610.5 45.0V205.5M611.5 69.7V205.2M612.5 29.0V157.5M613.5 63.4V202.9M614.5 32.4V177.8M615.5 28.6V174.7M616.5 28.6V142.0M617.5 40.2V207.2M618.5 58.0V185.9M619.5 67.7V210.3M620.5 36.1V183.9M621.5 29.7V207.1M622.5 25.3V144.6M623.5 34.4V171.7M624.5 42.1V178.0M625.5 48.7V210.3M626.5 110.9V214.0" stroke="#5E3C99" stroke-width="1.0" fill="none"/><path d="M391.5 48.0V150.5M392.5 42.8V158.3M393.5 47.7V187.0M394.5 41.2V187.0M395.5 27.0V184.7M396.5 25.4V207.6M397.5 29.6V207.6M398.5 31.5V204.3M399.5 38.7V212.9M400.5 34.3V159.4M401.5 36.6V182.3M402.5 33.8V188.8M403.5 43.8V184.8M404.5 50.5V188.1M405.5 24.9V189.4M406.5 40.5V189.4M407.5 26.7V179.2M408.5 68.0V194.9M409.5 81.0V205.3M410.5 32.9V206.5M411.5 51.8V184.8M412.5 57.1V175.6M413.5 38.6V187.1M414.5 29.1V174.0M415.5 88.4V212.9M416.5 93.9V213.7M417.5 28.7V199.2M418.5 28.7V128.7M419.5 25.0V117.7M420.5 55.2V203.0M421.5 47.6V185.2M422.5 32.7V200.2M423.5 32.7V144.6M424.5 47.5V121.7M425.5 71.3V189.3M426.5 56.1V210.8M427.5 29.9V206.3M428.5 33.9V205.2M429.5 28.3V151.6M430.5 44.3V204.9M431.5 28.9V139.2M432.5 86.5V206.5M433.5 33.2V196.2M434.5 44.9V167.2M435.5 41.3V188.7M436.5 33.8V182.2M437.5 46.6V213.5M438.5 29.8V180.5M439.5 79.0V172.6M440.5 31.3V191.1M441.5 66.1V208.8M442.5 35.9V193.3M443.5 26.5V115.6M444.5 35.9V209.0M445.5 38.2V172.9M446.5 26.6V192.7M447.5 64.6V179.3M448.5 41.7V203.9M449.5 58.8V206.8M450.5 36.1V156.0M451.5 27.8V191.0M452.5 37.2V169.7M453.5 40.9V179.9M454.5 103.6V210.3M455.5 34.5V176.6M456.5 87.1V187.5M457.5 75.3V196.6M458.5 42.1V152.3M459.5 73.0V208.2M460.5 59.2V166.4M461.5 71.8V213.0M462.5 37.6V185.4M463.5 39.8V172.5M464.5 39.8V174.6M465.5 32.2V178.0M466.5 42.2V189.5M467.5 40.0V211.2M468.5 33.2V189.0M469.5 33.2V209.5M470.5 36.7V193.7M471.5 57.8V191.4M472.5 43.0V213.0M473.5 62.0V161.0M474.5 26.7V177.1M475.5 28.2V140.2M476.5 56.4V189.1M477.5 65.6V199.7M478.5 40.1V159.5M479.5 25.9V166.0M480.5 61.1V182.3M481.5 31.0V208.3M482.5 62.4V205.6M483.5 53.2V183.1M484.5 45.3V184.1M485.5 37.1V190.6M486.5 56.9V171.8M487.5 45.1V182.8M488.5 29.2V177.4M489.5 26.9V154.8M490.5 26.2V162.8M491.5 34.7V163.0M492.5 25.8V181.2M493.5 47.3V142.2M494.5 47.3V179.9M495.5 54.9V192.9M496.5 36.9V169.6M497.5 29.7V191.3M498.5 70.1V186.0M499.5 25.9V146.6M500.5 36.6V141.7M501.5 54.6V189.5M502.5 128.6V212.2M503.5 29.8V184.0M504.5 26.3V173.4M505.5 25.6V195.4M506.5 62.1V196.5M507.5 28.1V187.2M508.5 33.9V162.8M509.5 34.6V188.2M510.5 30.0V193.8M511.5 26.4V212.8M512.5 52.3V177.5M513.5 25.4V171.1M514.5 31.2V178.8M515.5 34.6V207.4M516.5 26.9V187.9M517.5 53.7V206.0M518.5 60.5V162.9M519.5 33.4V184.5M520.5 60.3V192.6M521.5 29.7V180.1M522.5 28.3V213.9M523.5 61.4V183.7M524.5 34.0V123.4M525.5 25.2V210.2M526.5 47.6V214.2M527.5 37.5V182.4M528.5 27.4V159.3M529.5 34.5V175.2M530.5 51.4V155.2M531.5 28.0V180.9M532.5 30.5V164.5M533.5 25.5V112.0M534.5 32.5V204.9M535.5 32.5V213.6M536.5 34.0V213.6M537.5 53.1V197.5M538.5 53.1V210.8M539.5 63.6V174.1M540.5 67.0V199.8M541.5 108.4V200.6M542.5 48.1V209.6M543.5 77.9V213.5M544.5 49.3V164.4M545.5 50.4V193.7M546.5 25.4V171.9M547.5 27.1V193.1M548.5 49.2V187.6M549.5 39.0V180.9M550.5 96.6V207.7M551.5 25.0V214.5M552.5 43.5V164.3M553.5 26.7V146.0M554.5 28.2V214.5M555.5 28.0V214.5M556.5 50.6V176.3M557.5 64.6V165.1M558.5 62.8V171.6M559.5 30.1V207.8M560.5 27.7V150.1M561.5 69.6V185.3M562.5 83.7V190.2M563.5 50.0V173.0M564.5 59.7V214.8M565.5 25.5V207.5M566.5 63.8V207.4M567.5 27.5V158.4M568.5 27.5V208.5M569.5 90.7V182.8M570.5 99.9V202.6M571.5 45.7V169.4M572.5 38.4V213.9M573.5 70.5V210.7M574.5 65.2V209.8M575.5 33.2V156.5M576.5 60.6V188.8M577.5 43.8V150.0M578.5 25.2V179.0M579.5 48.7V184.3M580.5 74.6V198.3M581.5 31.9V171.1M582.5 43.9V162.6M583.5 58.0V197.9M584.5 36.7V189.3M585.5 32.5V168.6M586.5 66.1V199.1M587.5 30.0V166.8M588.5 49.9V214.4M589.5 42.5V213.5M590.5 45.7V167.1M591.5 38.9V212.0M592.5 59.5V190.4M593.5 58.9V165.2M594.5 50.3V155.1M595.5 58.6V163.7M596.5 41.6V180.5M597.5 117.8V209.9M598.5 29.1V211.6M599.5 43.0V182.5M600.5 65.5V213.2M601.5 65.5V200.4M602.5 27.7V184.8M603.5 44.8V180.3M604.5 25.3V147.9M605.5 32.7V198.9M606.5 31.3V181.6M607.5 54.9V199.1M608.5 80.7V210.8M609.5 38.9V163.9M610.5 26.3V146.4M611.5 47.8V209.8M612.5 72.1V196.0M613.5 48.4V211.6M614.5 51.3V190.2M615.5 33.9V195.0M616.5 37.9V163.5M617.5 65.7V190.4M618.5 31.8V178.7M619.5 27.8V151.7M620.5 45.4V198.1M621.5 36.3V194.5M622.5 35.0V144.3M623.5 40.4V173.8M624.5 57.4V199.9M625.5 31.0V213.0M626.5 144.6V213.0" stroke="#F2A23E" stroke-width="1.0" fill="none"/><path d="M398.5 43.9V179.4M410.5 32.3V214.5M412.5 38.0V186.2M414.5 25.3V187.8M416.5 35.1V206.1M417.5 35.1V194.2M421.5 68.5V211.8M428.5 61.5V174.0M435.5 86.7V196.2M444.5 50.7V205.7M445.5 36.6V169.2M457.5 51.7V197.8M463.5 30.4V213.2M468.5 25.2V171.1M472.5 28.6V213.7M486.5 52.3V168.1M487.5 78.5V193.4M490.5 25.8V167.2M495.5 55.6V212.9M498.5 62.3V198.0M506.5 28.2V200.1M509.5 28.6V171.9M525.5 43.5V208.1M574.5 33.7V210.7M592.5 30.2V149.3M593.5 24.9V92.5M601.5 64.5V173.4M613.5 63.4V202.9M614.5 32.4V177.8M616.5 28.6V142.0M617.5 40.2V207.2M619.5 67.7V210.3" stroke="#5E3C99" stroke-width="1.0" fill="none" stroke-opacity="0.28"/><path d="M411.5 72.9V202.2M419.5 68.2V212.2M440.5 27.9V186.1M442.5 42.1V193.0M444.5 75.7V193.2M449.5 31.3V168.1M471.5 30.3V182.5M474.5 66.2V209.9M486.5 56.4V212.4M489.5 85.5V203.7M499.5 39.9V213.4M516.5 100.2V190.6M522.5 27.3V165.5M538.5 29.4V122.9M539.5 57.3V168.6M571.5 35.0V150.4M589.5 30.8V212.1M592.5 46.5V181.2M603.5 35.4V181.1" stroke="#B2ABD2" stroke-width="1.0" fill="none" stroke-opacity="0.28"/><path d="M409.5 28.9V197.3M410.5 46.9V205.0M435.5 51.9V207.7M442.5 64.9V172.8M466.5 46.5V204.0M482.5 59.2V195.9M495.5 58.4V203.6M498.5 30.9V196.1M507.5 59.1V214.7M531.5 36.9V204.2M554.5 64.9V182.0M566.5 54.6V160.3M567.5 29.3V142.2M592.5 46.2V207.0M624.5 30.3V148.3" stroke="#E66101" stroke-width="1.0" fill="none" stroke-opacity="0.28"/><path d="M378.5 14.8V224.2H638.4" stroke="#222" stroke-width="1.1" fill="none"/><path d="M375.7 183.2H378.5" stroke="#222" stroke-width="1.1"/><text x="373.3" y="186.04999999999998" font-size="7.9" text-anchor="end" fill="#4a4a4a" stroke="#4a4a4a" stroke-width="0.22" >0.02</text><path d="M375.7 119.8H378.5" stroke="#222" stroke-width="1.1"/><text x="373.3" y="122.64999999999999" font-size="7.9" text-anchor="end" fill="#4a4a4a" stroke="#4a4a4a" stroke-width="0.22" >0.04</text><path d="M375.7 56.5H378.5" stroke="#222" stroke-width="1.1"/><text x="373.3" y="59.35" font-size="7.9" text-anchor="end" fill="#4a4a4a" stroke="#4a4a4a" stroke-width="0.22" >0.06</text><path d="M391.0 224.2V227" stroke="#222" stroke-width="1.1"/><text x="391.0" y="234.9" font-size="7.9" text-anchor="middle" fill="#4a4a4a" stroke="#4a4a4a" stroke-width="0.22" >1000</text><path d="M438.1 224.2V227" stroke="#222" stroke-width="1.1"/><text x="438.1" y="234.9" font-size="7.9" text-anchor="middle" fill="#4a4a4a" stroke="#4a4a4a" stroke-width="0.22" >2000</text><path d="M485.2 224.2V227" stroke="#222" stroke-width="1.1"/><text x="485.2" y="234.9" font-size="7.9" text-anchor="middle" fill="#4a4a4a" stroke="#4a4a4a" stroke-width="0.22" >3000</text><path d="M532.3 224.2V227" stroke="#222" stroke-width="1.1"/><text x="532.3" y="234.9" font-size="7.9" text-anchor="middle" fill="#4a4a4a" stroke="#4a4a4a" stroke-width="0.22" >4000</text><path d="M579.4 224.2V227" stroke="#222" stroke-width="1.1"/><text x="579.4" y="234.9" font-size="7.9" text-anchor="middle" fill="#4a4a4a" stroke="#4a4a4a" stroke-width="0.22" >5000</text><path d="M626.5 224.2V227" stroke="#222" stroke-width="1.1"/><text x="626.5" y="234.9" font-size="7.9" text-anchor="middle" fill="#4a4a4a" stroke="#4a4a4a" stroke-width="0.22" >6000</text><text x="378.8" y="7.4" font-size="10.0" text-anchor="start" fill="#000" stroke="#000" stroke-width="0.22" >B: Brms</text><text x="508.5" y="247.0" font-size="10.4" text-anchor="middle" fill="#000" stroke="#000" stroke-width="0.22" >Iteration</text><text x="673.9" y="94.8" font-size="10.1" text-anchor="start" fill="#000" stroke="#000" stroke-width="0.22" >Chain</text><path d="M675.2 109.1H688.6" stroke="#EE8650" stroke-width="1.4"/><text x="695.7" y="112.0" font-size="8.0" text-anchor="start" fill="#000" stroke="#000" stroke-width="0.22" >1</text><path d="M675.2 125.1H688.6" stroke="#C2BCDD" stroke-width="1.4"/><text x="695.7" y="128.0" font-size="8.0" text-anchor="start" fill="#000" stroke="#000" stroke-width="0.22" >2</text><path d="M675.2 141.1H688.6" stroke="#7E62AE" stroke-width="1.4"/><text x="695.7" y="144.0" font-size="8.0" text-anchor="start" fill="#000" stroke="#000" stroke-width="0.22" >3</text><path d="M675.2 157.1H688.6" stroke="#F8BC74" stroke-width="1.4"/><text x="695.7" y="160.0" font-size="8.0" text-anchor="start" fill="#000" stroke="#000" stroke-width="0.22" >4</text><path d="M61.5 278.4V494.4H340.5" stroke="#222" stroke-width="1.1" fill="none"/><path d="M58.7 470.6H61.5" stroke="#222" stroke-width="1.1"/><text x="56.8" y="473.5" font-size="7.9" text-anchor="end" fill="#4a4a4a" stroke="#4a4a4a" stroke-width="0.22" >1.000</text><path d="M58.7 425.1H61.5" stroke="#222" stroke-width="1.1"/><text x="56.8" y="427.9" font-size="7.9" text-anchor="end" fill="#4a4a4a" stroke="#4a4a4a" stroke-width="0.22" >1.001</text><path d="M58.7 379.5H61.5" stroke="#222" stroke-width="1.1"/><text x="56.8" y="382.4" font-size="7.9" text-anchor="end" fill="#4a4a4a" stroke="#4a4a4a" stroke-width="0.22" >1.002</text><path d="M58.7 334.0H61.5" stroke="#222" stroke-width="1.1"/><text x="56.8" y="336.8" font-size="7.9" text-anchor="end" fill="#4a4a4a" stroke="#4a4a4a" stroke-width="0.22" >1.003</text><path d="M58.7 288.4H61.5" stroke="#222" stroke-width="1.1"/><text x="56.8" y="291.3" font-size="7.9" text-anchor="end" fill="#4a4a4a" stroke="#4a4a4a" stroke-width="0.22" >1.004</text><path d="M118.7 494.4V497.2" stroke="#222" stroke-width="1.1"/><text x="118.7" y="503.6" font-size="8" text-anchor="middle" fill="#4a4a4a" style="font-family:'Liberation Serif',serif">γ</text><path d="M201.2 494.4V497.2" stroke="#222" stroke-width="1.1"/><text x="201.2" y="503.6" font-size="8" text-anchor="middle" fill="#4a4a4a" style="font-family:'Liberation Serif',serif">β</text><path d="M283.8 494.4V497.2" stroke="#222" stroke-width="1.1"/><text x="283.8" y="503.6" font-size="8" text-anchor="middle" fill="#4a4a4a" style="font-family:'Liberation Serif',serif">δ</text><text x="62.0" y="271.2" font-size="10.0" text-anchor="start" fill="#000" stroke="#000" stroke-width="0.22" >C</text><text x="201.1" y="518.3" font-size="10.0" text-anchor="middle" fill="#000" stroke="#000" stroke-width="0.22" >Parameter</text><text x="0.8" y="392.5" font-size="9.4">R</text><path d="M2.3 383.4L3.9 380.8L5.5 383.4" stroke="#000" stroke-width="0.8" fill="none"/><g fill="#FF7F00" fill-opacity="0.1"><circle cx="92.8" cy="322.7" r="2.3"/><circle cx="102.8" cy="322.7" r="2.3"/><circle cx="85.1" cy="336.5" r="2.3"/><circle cx="89.7" cy="335.0" r="2.3"/><circle cx="106.6" cy="335.8" r="2.3"/><circle cx="111.2" cy="339.6" r="2.3"/><circle cx="88.9" cy="342.7" r="2.3"/><circle cx="106.6" cy="342.7" r="2.3"/><circle cx="97.4" cy="339.6" r="2.3"/><circle cx="90.5" cy="358.0" r="2.3"/><circle cx="105.0" cy="358.0" r="2.3"/><circle cx="90.5" cy="366.5" r="2.3"/><circle cx="104.3" cy="366.5" r="2.3"/><circle cx="97.4" cy="355.8" r="2.3"/><circle cx="93.5" cy="330.0" r="2.3"/><circle cx="101.5" cy="347.0" r="2.3"/><circle cx="95.0" cy="370.0" r="2.3"/><circle cx="100.0" cy="362.0" r="2.3"/></g><path d="M97.7 311.5 L98.7 311.6 L98.8 317.3 L99.3 322.0 L100.0 328.0 L101.5 335.8 L102.1 340.4 L101.5 343.5 L100.6 346.5 L100.2 350.0 L100.2 354.2 L100.3 363.5 L100.1 368.0 L99.7 372.7 L99.0 377.0 L98.2 380.4 L97.7 380.6 L97.7 380.6 L97.2 380.4 L96.4 377.0 L95.7 372.7 L95.3 368.0 L95.1 363.5 L95.2 354.2 L95.2 350.0 L94.8 346.5 L93.9 343.5 L93.3 340.4 L93.9 335.8 L95.4 328.0 L96.1 322.0 L96.6 317.3 L96.7 311.6 L97.7 311.5Z" stroke="#F5821F" stroke-width="1.25" fill="none" fill-opacity="1.0" stroke-linejoin="round"/><path d="M94.2 288.4H101.2M97.7 284.9V291.9M95.2 285.9L100.2 290.9M95.2 290.9L100.2 285.9" stroke="#FF8000" stroke-width="1.2" fill="none"/><path d="M139.5 468.1 L143.6 470.0 L150.6 473.0 L160.1 476.8 L157.6 479.0 L153.6 481.5 L151.1 483.3 L139.1 483.8 L139.1 483.8 L127.1 483.3 L124.6 481.5 L120.6 479.0 L118.1 476.8 L127.6 473.0 L134.6 470.0 L138.7 468.1Z" stroke="#1A7A1A" stroke-width="1.2" fill="#DCEBDC" fill-opacity="1.0" stroke-linejoin="round"/><g fill="#006400" fill-opacity="0.1"><circle cx="127.5" cy="477.4" r="1.8"/><circle cx="131.7" cy="482.0" r="1.8"/><circle cx="143.0" cy="474.2" r="1.8"/><circle cx="144.7" cy="472.9" r="1.8"/><circle cx="148.8" cy="478.4" r="1.8"/><circle cx="141.8" cy="475.8" r="1.8"/><circle cx="138.3" cy="481.1" r="1.8"/><circle cx="146.9" cy="472.9" r="1.8"/><circle cx="143.8" cy="475.0" r="1.8"/><circle cx="134.1" cy="472.0" r="1.8"/><circle cx="148.4" cy="473.8" r="1.8"/><circle cx="124.8" cy="478.8" r="1.8"/><circle cx="126.4" cy="475.4" r="1.8"/><circle cx="133.0" cy="477.2" r="1.8"/><circle cx="134.2" cy="470.2" r="1.8"/><circle cx="129.9" cy="480.7" r="1.8"/><circle cx="126.8" cy="479.3" r="1.8"/><circle cx="123.5" cy="477.4" r="1.8"/><circle cx="128.6" cy="480.3" r="1.8"/><circle cx="149.2" cy="479.2" r="1.8"/><circle cx="135.1" cy="472.0" r="1.8"/><circle cx="134.9" cy="473.8" r="1.8"/><circle cx="127.0" cy="479.5" r="1.8"/><circle cx="148.0" cy="474.7" r="1.8"/><circle cx="143.6" cy="479.4" r="1.8"/><circle cx="151.8" cy="478.7" r="1.8"/><circle cx="135.2" cy="479.6" r="1.8"/><circle cx="137.2" cy="471.0" r="1.8"/><circle cx="139.0" cy="477.9" r="1.8"/><circle cx="132.4" cy="472.2" r="1.8"/><circle cx="133.3" cy="476.8" r="1.8"/><circle cx="127.5" cy="478.0" r="1.8"/><circle cx="147.9" cy="473.4" r="1.8"/><circle cx="139.8" cy="470.6" r="1.8"/><circle cx="148.1" cy="478.8" r="1.8"/><circle cx="138.0" cy="478.6" r="1.8"/><circle cx="146.6" cy="479.1" r="1.8"/><circle cx="137.1" cy="472.5" r="1.8"/><circle cx="142.3" cy="476.0" r="1.8"/><circle cx="143.1" cy="477.4" r="1.8"/><circle cx="143.7" cy="474.8" r="1.8"/><circle cx="154.2" cy="476.3" r="1.8"/><circle cx="127.7" cy="476.7" r="1.8"/><circle cx="147.2" cy="477.9" r="1.8"/><circle cx="148.5" cy="474.4" r="1.8"/></g><path d="M139.1 455V468.2" stroke="#1A7A1A" stroke-width="1.2"/><circle cx="139.1" cy="455" r="1.4" fill="#1A7A1A"/><path d="M135.6 478.2H142.6M139.1 474.7V481.7M136.6 475.7L141.6 480.7M136.6 480.7L141.6 475.7" stroke="#006400" stroke-width="1.2" fill="none"/><g fill="#FF7F00" fill-opacity="0.07"><circle cx="178.8" cy="453.2" r="2.0"/><circle cx="181.9" cy="453.4" r="2.0"/><circle cx="185.0" cy="462.6" r="2.0"/><circle cx="183.5" cy="447.8" r="2.0"/><circle cx="191.6" cy="450.2" r="2.0"/><circle cx="180.3" cy="449.0" r="2.0"/><circle cx="173.8" cy="462.0" r="2.0"/><circle cx="184.7" cy="465.3" r="2.0"/><circle cx="177.8" cy="452.5" r="2.0"/><circle cx="173.0" cy="452.7" r="2.0"/><circle cx="187.6" cy="449.6" r="2.0"/><circle cx="177.2" cy="465.2" r="2.0"/><circle cx="169.2" cy="447.5" r="2.0"/><circle cx="179.3" cy="438.6" r="2.0"/><circle cx="179.9" cy="437.8" r="2.0"/><circle cx="174.1" cy="458.6" r="2.0"/><circle cx="184.8" cy="453.7" r="2.0"/><circle cx="193.0" cy="450.0" r="2.0"/><circle cx="176.9" cy="454.2" r="2.0"/><circle cx="183.7" cy="442.3" r="2.0"/><circle cx="195.6" cy="451.6" r="2.0"/><circle cx="169.2" cy="451.2" r="2.0"/><circle cx="170.4" cy="454.2" r="2.0"/><circle cx="191.2" cy="453.9" r="2.0"/><circle cx="177.2" cy="452.2" r="2.0"/><circle cx="179.7" cy="444.1" r="2.0"/><circle cx="177.7" cy="457.8" r="2.0"/><circle cx="169.5" cy="456.1" r="2.0"/><circle cx="190.0" cy="454.2" r="2.0"/><circle cx="166.1" cy="449.1" r="2.0"/><circle cx="173.8" cy="443.6" r="2.0"/><circle cx="182.0" cy="447.9" r="2.0"/><circle cx="170.1" cy="446.2" r="2.0"/><circle cx="187.6" cy="453.1" r="2.0"/><circle cx="174.0" cy="456.0" r="2.0"/><circle cx="174.9" cy="463.6" r="2.0"/><circle cx="183.3" cy="442.8" r="2.0"/><circle cx="188.4" cy="449.7" r="2.0"/><circle cx="182.2" cy="438.4" r="2.0"/><circle cx="176.1" cy="456.8" r="2.0"/></g><path d="M180.3 435.7 L181.1 436.0 L182.1 438.0 L185.8 442.8 L188.8 447.0 L190.6 451.0 L189.8 455.0 L187.9 458.0 L186.3 461.0 L183.8 465.0 L181.1 468.5 L180.3 469.1 L180.3 469.1 L179.5 468.5 L176.8 465.0 L174.3 461.0 L172.7 458.0 L170.8 455.0 L170.0 451.0 L171.8 447.0 L174.8 442.8 L178.5 438.0 L179.5 436.0 L180.3 435.7Z" stroke="#F5821F" stroke-width="1.25" fill="#FFF1E4" fill-opacity="1.0" stroke-linejoin="round"/><path d="M176.8 384.4H183.8M180.3 380.9V387.9M177.8 381.9L182.8 386.9M177.8 386.9L182.8 381.9" stroke="#FF8000" stroke-width="1.2" fill="none"/><path d="M221.7 464.7 L224.6 464.8 L225.2 467.0 L226.9 469.8 L225.7 472.9 L232.7 476.0 L242.8 480.3 L236.7 482.5 L229.7 484.3 L221.7 484.6 L221.7 484.6 L213.7 484.3 L206.7 482.5 L200.6 480.3 L210.7 476.0 L217.7 472.9 L216.5 469.8 L218.2 467.0 L218.8 464.8 L221.7 464.7Z" stroke="#1A7A1A" stroke-width="1.2" fill="#DCEBDC" fill-opacity="1.0" stroke-linejoin="round"/><g fill="#006400" fill-opacity="0.09"><circle cx="206.0" cy="480.1" r="1.8"/><circle cx="224.1" cy="470.2" r="1.8"/><circle cx="219.3" cy="475.9" r="1.8"/><circle cx="215.9" cy="481.5" r="1.8"/><circle cx="224.8" cy="478.1" r="1.8"/><circle cx="223.6" cy="469.0" r="1.8"/><circle cx="210.2" cy="479.3" r="1.8"/><circle cx="223.8" cy="481.1" r="1.8"/><circle cx="217.7" cy="477.6" r="1.8"/><circle cx="225.8" cy="475.8" r="1.8"/><circle cx="228.7" cy="481.8" r="1.8"/><circle cx="225.0" cy="480.9" r="1.8"/><circle cx="229.2" cy="476.7" r="1.8"/><circle cx="218.0" cy="476.3" r="1.8"/><circle cx="228.2" cy="474.6" r="1.8"/><circle cx="229.3" cy="482.2" r="1.8"/><circle cx="228.2" cy="479.1" r="1.8"/><circle cx="225.5" cy="478.3" r="1.8"/><circle cx="223.0" cy="469.9" r="1.8"/><circle cx="215.1" cy="482.4" r="1.8"/><circle cx="218.4" cy="468.0" r="1.8"/><circle cx="224.6" cy="481.9" r="1.8"/><circle cx="222.9" cy="479.7" r="1.8"/><circle cx="205.3" cy="480.1" r="1.8"/><circle cx="230.2" cy="482.3" r="1.8"/><circle cx="234.2" cy="481.3" r="1.8"/><circle cx="222.1" cy="473.6" r="1.8"/><circle cx="225.2" cy="477.4" r="1.8"/><circle cx="233.1" cy="481.7" r="1.8"/><circle cx="225.5" cy="480.4" r="1.8"/><circle cx="214.1" cy="482.5" r="1.8"/><circle cx="211.6" cy="477.7" r="1.8"/><circle cx="220.5" cy="470.9" r="1.8"/><circle cx="216.7" cy="481.9" r="1.8"/><circle cx="229.8" cy="481.8" r="1.8"/><circle cx="223.5" cy="470.0" r="1.8"/><circle cx="221.7" cy="472.7" r="1.8"/><circle cx="220.2" cy="466.6" r="1.8"/><circle cx="226.8" cy="482.0" r="1.8"/><circle cx="213.0" cy="476.0" r="1.8"/><circle cx="230.5" cy="478.9" r="1.8"/><circle cx="222.6" cy="473.9" r="1.8"/><circle cx="218.3" cy="473.5" r="1.8"/><circle cx="220.2" cy="478.0" r="1.8"/><circle cx="219.6" cy="468.0" r="1.8"/><circle cx="218.5" cy="469.7" r="1.8"/><circle cx="217.3" cy="472.2" r="1.8"/><circle cx="221.6" cy="470.5" r="1.8"/><circle cx="213.0" cy="480.8" r="1.8"/><circle cx="221.3" cy="466.6" r="1.8"/></g><path d="M218.2 482.6H225.2M221.7 479.1V486.1M219.2 480.1L224.2 485.1M219.2 485.1L224.2 480.1" stroke="#006400" stroke-width="1.2" fill="none"/><g fill="#FF7F00" fill-opacity="0.11"><circle cx="264.7" cy="456.9" r="1.8"/><circle cx="274.8" cy="468.1" r="1.8"/><circle cx="263.7" cy="457.6" r="1.8"/><circle cx="253.1" cy="472.5" r="1.8"/><circle cx="258.7" cy="468.9" r="1.8"/><circle cx="267.3" cy="458.6" r="1.8"/><circle cx="256.8" cy="471.5" r="1.8"/><circle cx="265.4" cy="464.6" r="1.8"/><circle cx="266.3" cy="476.5" r="1.8"/><circle cx="258.7" cy="467.5" r="1.8"/><circle cx="260.3" cy="471.4" r="1.8"/><circle cx="266.6" cy="457.6" r="1.8"/><circle cx="268.2" cy="477.4" r="1.8"/><circle cx="258.3" cy="475.1" r="1.8"/><circle cx="276.7" cy="471.0" r="1.8"/><circle cx="273.8" cy="471.3" r="1.8"/><circle cx="254.4" cy="462.6" r="1.8"/><circle cx="257.3" cy="465.4" r="1.8"/><circle cx="271.0" cy="474.4" r="1.8"/><circle cx="270.1" cy="463.1" r="1.8"/><circle cx="259.7" cy="468.3" r="1.8"/><circle cx="269.1" cy="473.6" r="1.8"/><circle cx="272.9" cy="465.0" r="1.8"/><circle cx="255.5" cy="472.6" r="1.8"/><circle cx="259.4" cy="467.4" r="1.8"/><circle cx="257.3" cy="471.7" r="1.8"/><circle cx="264.0" cy="472.7" r="1.8"/><circle cx="253.6" cy="473.5" r="1.8"/><circle cx="265.4" cy="468.0" r="1.8"/><circle cx="254.7" cy="464.0" r="1.8"/><circle cx="261.0" cy="456.0" r="1.8"/><circle cx="265.9" cy="469.6" r="1.8"/><circle cx="260.3" cy="473.9" r="1.8"/><circle cx="259.4" cy="456.8" r="1.8"/><circle cx="262.6" cy="460.4" r="1.8"/><circle cx="249.7" cy="468.4" r="1.8"/><circle cx="265.0" cy="473.4" r="1.8"/><circle cx="266.8" cy="468.3" r="1.8"/><circle cx="267.1" cy="467.7" r="1.8"/><circle cx="264.7" cy="465.4" r="1.8"/><circle cx="256.7" cy="470.4" r="1.8"/><circle cx="262.5" cy="456.9" r="1.8"/><circle cx="274.1" cy="465.4" r="1.8"/><circle cx="262.5" cy="463.1" r="1.8"/><circle cx="268.7" cy="468.5" r="1.8"/><circle cx="258.9" cy="461.2" r="1.8"/><circle cx="253.7" cy="464.5" r="1.8"/><circle cx="263.5" cy="468.7" r="1.8"/><circle cx="252.7" cy="470.8" r="1.8"/><circle cx="260.4" cy="465.0" r="1.8"/><circle cx="263.9" cy="473.4" r="1.8"/><circle cx="249.1" cy="471.8" r="1.8"/><circle cx="250.8" cy="469.9" r="1.8"/><circle cx="256.9" cy="469.5" r="1.8"/><circle cx="270.0" cy="460.7" r="1.8"/><circle cx="263.6" cy="466.0" r="1.8"/><circle cx="270.9" cy="470.6" r="1.8"/><circle cx="252.2" cy="470.6" r="1.8"/><circle cx="276.3" cy="471.8" r="1.8"/><circle cx="260.8" cy="477.9" r="1.8"/><circle cx="247.6" cy="470.4" r="1.8"/><circle cx="269.5" cy="473.5" r="1.8"/><circle cx="270.0" cy="475.8" r="1.8"/><circle cx="255.4" cy="461.2" r="1.8"/><circle cx="260.4" cy="457.9" r="1.8"/><circle cx="270.6" cy="468.4" r="1.8"/><circle cx="264.2" cy="472.0" r="1.8"/><circle cx="270.2" cy="462.9" r="1.8"/><circle cx="253.1" cy="464.4" r="1.8"/><circle cx="260.0" cy="463.3" r="1.8"/><circle cx="268.2" cy="471.9" r="1.8"/><circle cx="256.8" cy="464.4" r="1.8"/><circle cx="272.3" cy="471.1" r="1.8"/><circle cx="254.7" cy="462.9" r="1.8"/><circle cx="275.6" cy="471.8" r="1.8"/><circle cx="257.8" cy="472.4" r="1.8"/><circle cx="256.3" cy="471.9" r="1.8"/><circle cx="271.7" cy="463.2" r="1.8"/><circle cx="264.3" cy="470.8" r="1.8"/><circle cx="264.9" cy="468.4" r="1.8"/><circle cx="268.6" cy="470.5" r="1.8"/><circle cx="270.8" cy="471.6" r="1.8"/><circle cx="256.5" cy="461.6" r="1.8"/><circle cx="259.8" cy="462.5" r="1.8"/><circle cx="250.0" cy="469.9" r="1.8"/><circle cx="269.6" cy="472.3" r="1.8"/><circle cx="252.0" cy="474.4" r="1.8"/><circle cx="269.3" cy="475.7" r="1.8"/><circle cx="263.6" cy="455.5" r="1.8"/><circle cx="255.5" cy="467.1" r="1.8"/><circle cx="264.9" cy="462.0" r="1.8"/><circle cx="265.4" cy="477.9" r="1.8"/><circle cx="257.4" cy="464.5" r="1.8"/><circle cx="260.3" cy="465.7" r="1.8"/><circle cx="272.6" cy="466.6" r="1.8"/><circle cx="276.5" cy="467.9" r="1.8"/><circle cx="268.2" cy="459.0" r="1.8"/><circle cx="261.1" cy="461.1" r="1.8"/><circle cx="269.9" cy="462.9" r="1.8"/><circle cx="258.0" cy="461.7" r="1.8"/><circle cx="260.8" cy="476.8" r="1.8"/><circle cx="256.5" cy="466.7" r="1.8"/><circle cx="257.7" cy="463.1" r="1.8"/><circle cx="259.0" cy="461.3" r="1.8"/><circle cx="264.7" cy="471.6" r="1.8"/><circle cx="271.1" cy="471.7" r="1.8"/><circle cx="256.6" cy="473.9" r="1.8"/><circle cx="263.6" cy="469.5" r="1.8"/><circle cx="257.1" cy="476.6" r="1.8"/><circle cx="266.8" cy="456.5" r="1.8"/><circle cx="258.3" cy="464.1" r="1.8"/><circle cx="266.3" cy="468.9" r="1.8"/><circle cx="248.1" cy="470.0" r="1.8"/><circle cx="254.0" cy="470.1" r="1.8"/><circle cx="271.6" cy="464.6" r="1.8"/><circle cx="268.0" cy="461.4" r="1.8"/><circle cx="262.2" cy="470.6" r="1.8"/><circle cx="275.9" cy="467.8" r="1.8"/><circle cx="266.0" cy="455.4" r="1.8"/><circle cx="275.7" cy="466.2" r="1.8"/><circle cx="257.2" cy="476.6" r="1.8"/><circle cx="267.6" cy="461.6" r="1.8"/><circle cx="253.0" cy="474.2" r="1.8"/><circle cx="266.7" cy="472.7" r="1.8"/><circle cx="262.4" cy="464.6" r="1.8"/><circle cx="269.4" cy="463.5" r="1.8"/><circle cx="267.9" cy="470.0" r="1.8"/><circle cx="261.8" cy="458.3" r="1.8"/><circle cx="269.5" cy="474.5" r="1.8"/><circle cx="278.4" cy="469.3" r="1.8"/><circle cx="276.8" cy="471.4" r="1.8"/><circle cx="251.2" cy="472.0" r="1.8"/><circle cx="257.4" cy="460.5" r="1.8"/><circle cx="272.4" cy="469.6" r="1.8"/><circle cx="271.4" cy="464.8" r="1.8"/><circle cx="248.6" cy="471.4" r="1.8"/><circle cx="254.1" cy="475.2" r="1.8"/><circle cx="257.0" cy="467.7" r="1.8"/><circle cx="255.9" cy="475.4" r="1.8"/><circle cx="270.0" cy="462.1" r="1.8"/><circle cx="259.6" cy="470.1" r="1.8"/><circle cx="263.0" cy="474.7" r="1.8"/><circle cx="266.9" cy="460.6" r="1.8"/><circle cx="263.6" cy="477.5" r="1.8"/><circle cx="264.9" cy="462.1" r="1.8"/><circle cx="265.7" cy="472.2" r="1.8"/><circle cx="254.0" cy="469.9" r="1.8"/><circle cx="269.3" cy="474.2" r="1.8"/><circle cx="268.5" cy="465.9" r="1.8"/><circle cx="267.8" cy="465.2" r="1.8"/><circle cx="260.6" cy="476.7" r="1.8"/><circle cx="257.2" cy="464.6" r="1.8"/><circle cx="272.9" cy="469.9" r="1.8"/><circle cx="267.4" cy="476.0" r="1.8"/><circle cx="254.1" cy="474.9" r="1.8"/><circle cx="249.6" cy="467.5" r="1.8"/><circle cx="268.4" cy="469.6" r="1.8"/><circle cx="257.7" cy="465.6" r="1.8"/><circle cx="257.6" cy="466.6" r="1.8"/><circle cx="259.5" cy="457.9" r="1.8"/><circle cx="261.2" cy="476.4" r="1.8"/><circle cx="262.9" cy="467.5" r="1.8"/><circle cx="276.0" cy="467.7" r="1.8"/><circle cx="276.7" cy="467.4" r="1.8"/><circle cx="259.8" cy="466.1" r="1.8"/><circle cx="256.4" cy="466.1" r="1.8"/><circle cx="267.3" cy="464.6" r="1.8"/><circle cx="267.6" cy="459.5" r="1.8"/><circle cx="264.7" cy="458.0" r="1.8"/><circle cx="272.0" cy="470.5" r="1.8"/><circle cx="263.8" cy="455.3" r="1.8"/><circle cx="269.6" cy="460.9" r="1.8"/><circle cx="255.9" cy="462.9" r="1.8"/><circle cx="270.5" cy="467.8" r="1.8"/><circle cx="253.5" cy="465.8" r="1.8"/><circle cx="269.0" cy="460.1" r="1.8"/><circle cx="266.1" cy="464.4" r="1.8"/><circle cx="275.0" cy="465.5" r="1.8"/><circle cx="268.2" cy="476.8" r="1.8"/><circle cx="266.8" cy="465.5" r="1.8"/><circle cx="253.0" cy="471.8" r="1.8"/><circle cx="261.6" cy="473.5" r="1.8"/><circle cx="276.2" cy="472.5" r="1.8"/><circle cx="253.9" cy="463.9" r="1.8"/><circle cx="260.7" cy="457.6" r="1.8"/><circle cx="273.7" cy="465.3" r="1.8"/><circle cx="272.5" cy="464.8" r="1.8"/><circle cx="273.5" cy="473.3" r="1.8"/><circle cx="276.0" cy="471.9" r="1.8"/><circle cx="262.4" cy="464.6" r="1.8"/><circle cx="256.3" cy="473.5" r="1.8"/><circle cx="268.9" cy="465.1" r="1.8"/><circle cx="269.6" cy="476.1" r="1.8"/><circle cx="264.8" cy="460.8" r="1.8"/><circle cx="264.8" cy="463.1" r="1.8"/><circle cx="255.0" cy="462.4" r="1.8"/><circle cx="259.5" cy="459.7" r="1.8"/><circle cx="267.2" cy="471.7" r="1.8"/><circle cx="262.7" cy="461.8" r="1.8"/><circle cx="253.8" cy="465.0" r="1.8"/></g><path d="M263.0 445.2 L263.9 447.0 L264.5 449.4 L265.3 452.0 L266.5 455.4 L268.2 458.0 L269.6 460.2 L271.4 463.0 L273.0 466.2 L274.2 468.5 L274.8 470.4 L273.5 472.5 L271.2 474.5 L268.5 476.5 L265.5 478.3 L263.0 478.8 L263.0 478.8 L260.5 478.3 L257.5 476.5 L254.8 474.5 L252.5 472.5 L251.2 470.4 L251.8 468.5 L253.0 466.2 L254.6 463.0 L256.4 460.2 L257.8 458.0 L259.5 455.4 L260.7 452.0 L261.5 449.4 L262.1 447.0 L263.0 445.2Z" stroke="#F5821F" stroke-width="1.1" fill="#F9C494" fill-opacity="0.75" stroke-linejoin="round"/><path d="M259.5 442.8H266.5M263.0 439.3V446.3M260.5 440.3L265.5 445.3M260.5 445.3L265.5 440.3" stroke="#FF8000" stroke-width="1.2" fill="none"/><path d="M304.2 460.2 L305.8 462.0 L306.4 464.5 L306.0 466.8 L305.8 468.6 L311.2 472.0 L321.2 477.0 L319.7 480.0 L317.2 482.5 L312.2 484.2 L304.2 484.4 L304.2 484.4 L296.2 484.2 L291.2 482.5 L288.7 480.0 L287.2 477.0 L297.2 472.0 L302.6 468.6 L302.4 466.8 L302.0 464.5 L302.6 462.0 L304.2 460.2Z" stroke="#1A7A1A" stroke-width="1.1" fill="#8CBC8C" fill-opacity="1.0" stroke-linejoin="round"/><g fill="#006400" fill-opacity="0.08"><circle cx="304.6" cy="463.2" r="1.8"/><circle cx="309.9" cy="469.7" r="1.8"/><circle cx="297.7" cy="476.0" r="1.8"/><circle cx="294.9" cy="482.1" r="1.8"/><circle cx="309.6" cy="475.2" r="1.8"/><circle cx="296.2" cy="480.3" r="1.8"/><circle cx="296.3" cy="480.9" r="1.8"/><circle cx="308.8" cy="469.7" r="1.8"/><circle cx="309.6" cy="482.2" r="1.8"/><circle cx="305.3" cy="469.0" r="1.8"/><circle cx="315.3" cy="476.0" r="1.8"/><circle cx="303.4" cy="473.4" r="1.8"/><circle cx="292.3" cy="480.8" r="1.8"/><circle cx="309.5" cy="480.4" r="1.8"/><circle cx="305.1" cy="465.6" r="1.8"/><circle cx="306.7" cy="478.7" r="1.8"/><circle cx="302.8" cy="476.8" r="1.8"/><circle cx="308.5" cy="473.9" r="1.8"/><circle cx="303.9" cy="470.8" r="1.8"/><circle cx="294.6" cy="480.7" r="1.8"/><circle cx="298.2" cy="483.3" r="1.8"/><circle cx="312.5" cy="477.6" r="1.8"/><circle cx="301.7" cy="479.8" r="1.8"/><circle cx="307.1" cy="472.4" r="1.8"/><circle cx="312.3" cy="479.7" r="1.8"/><circle cx="296.8" cy="473.7" r="1.8"/><circle cx="305.8" cy="477.9" r="1.8"/><circle cx="306.0" cy="475.9" r="1.8"/><circle cx="300.8" cy="476.9" r="1.8"/><circle cx="303.6" cy="470.4" r="1.8"/><circle cx="307.4" cy="474.5" r="1.8"/><circle cx="304.5" cy="475.8" r="1.8"/><circle cx="298.2" cy="477.2" r="1.8"/><circle cx="296.6" cy="479.9" r="1.8"/><circle cx="299.3" cy="480.2" r="1.8"/><circle cx="310.4" cy="482.1" r="1.8"/><circle cx="297.0" cy="479.1" r="1.8"/><circle cx="302.3" cy="482.1" r="1.8"/><circle cx="312.4" cy="482.6" r="1.8"/><circle cx="290.5" cy="476.6" r="1.8"/><circle cx="301.3" cy="476.2" r="1.8"/><circle cx="301.8" cy="464.5" r="1.8"/><circle cx="304.6" cy="471.4" r="1.8"/><circle cx="311.1" cy="474.2" r="1.8"/><circle cx="314.5" cy="473.9" r="1.8"/><circle cx="316.7" cy="477.8" r="1.8"/><circle cx="297.4" cy="475.1" r="1.8"/><circle cx="309.5" cy="469.1" r="1.8"/><circle cx="300.8" cy="475.4" r="1.8"/><circle cx="303.6" cy="472.1" r="1.8"/><circle cx="306.0" cy="477.3" r="1.8"/><circle cx="295.4" cy="472.4" r="1.8"/><circle cx="309.0" cy="483.9" r="1.8"/><circle cx="310.6" cy="470.7" r="1.8"/><circle cx="313.4" cy="476.9" r="1.8"/><circle cx="310.0" cy="477.9" r="1.8"/><circle cx="309.8" cy="478.5" r="1.8"/><circle cx="305.8" cy="479.7" r="1.8"/><circle cx="293.3" cy="479.1" r="1.8"/><circle cx="299.7" cy="480.2" r="1.8"/><circle cx="298.8" cy="480.3" r="1.8"/><circle cx="306.7" cy="468.4" r="1.8"/><circle cx="302.2" cy="469.7" r="1.8"/><circle cx="304.4" cy="478.1" r="1.8"/><circle cx="304.2" cy="463.2" r="1.8"/><circle cx="307.8" cy="479.9" r="1.8"/><circle cx="317.5" cy="477.1" r="1.8"/><circle cx="307.7" cy="470.2" r="1.8"/><circle cx="307.9" cy="467.5" r="1.8"/><circle cx="309.1" cy="482.2" r="1.8"/><circle cx="309.5" cy="469.1" r="1.8"/><circle cx="302.8" cy="481.6" r="1.8"/><circle cx="314.5" cy="476.1" r="1.8"/><circle cx="299.3" cy="471.9" r="1.8"/><circle cx="296.4" cy="475.8" r="1.8"/><circle cx="307.1" cy="465.6" r="1.8"/><circle cx="303.6" cy="481.6" r="1.8"/><circle cx="296.4" cy="483.0" r="1.8"/><circle cx="305.1" cy="472.1" r="1.8"/><circle cx="311.8" cy="481.7" r="1.8"/><circle cx="302.3" cy="474.0" r="1.8"/><circle cx="301.7" cy="469.2" r="1.8"/><circle cx="310.4" cy="472.5" r="1.8"/><circle cx="309.1" cy="474.2" r="1.8"/><circle cx="302.8" cy="476.1" r="1.8"/><circle cx="305.8" cy="479.9" r="1.8"/><circle cx="302.1" cy="468.6" r="1.8"/><circle cx="302.5" cy="480.2" r="1.8"/><circle cx="305.3" cy="471.0" r="1.8"/><circle cx="314.2" cy="476.0" r="1.8"/></g><path d="M300.7 472.2H307.7M304.2 468.7V475.7M301.7 469.7L306.7 474.7M301.7 474.7L306.7 469.7" stroke="#006400" stroke-width="1.2" fill="none"/><path d="M390.7 278.2V493.8H635.7" stroke="#222" stroke-width="1.1" fill="none"/><path d="M388 492.3H390.8" stroke="#222" stroke-width="1.1"/><text x="385.9" y="495.2" font-size="7.9" text-anchor="end" fill="#4a4a4a" stroke="#4a4a4a" stroke-width="0.22" >0</text><path d="M388 452.1H390.8" stroke="#222" stroke-width="1.1"/><text x="385.9" y="454.9" font-size="7.9" text-anchor="end" fill="#4a4a4a" stroke="#4a4a4a" stroke-width="0.22" >5000</text><path d="M388 411.8H390.8" stroke="#222" stroke-width="1.1"/><text x="385.9" y="414.7" font-size="7.9" text-anchor="end" fill="#4a4a4a" stroke="#4a4a4a" stroke-width="0.22" >10000</text><path d="M388 371.6H390.8" stroke="#222" stroke-width="1.1"/><text x="385.9" y="374.4" font-size="7.9" text-anchor="end" fill="#4a4a4a" stroke="#4a4a4a" stroke-width="0.22" >15000</text><path d="M388 331.3H390.8" stroke="#222" stroke-width="1.1"/><text x="385.9" y="334.2" font-size="7.9" text-anchor="end" fill="#4a4a4a" stroke="#4a4a4a" stroke-width="0.22" >20000</text><path d="M388 291.1H390.8" stroke="#222" stroke-width="1.1"/><text x="385.9" y="294.0" font-size="7.9" text-anchor="end" fill="#4a4a4a" stroke="#4a4a4a" stroke-width="0.22" >25000</text><path d="M440.3 493.8V496.6" stroke="#222" stroke-width="1.1"/><text x="440.3" y="503.0" font-size="8" text-anchor="middle" fill="#4a4a4a" style="font-family:'Liberation Serif',serif">γ</text><path d="M513.7 493.8V496.6" stroke="#222" stroke-width="1.1"/><text x="513.7" y="503.0" font-size="8" text-anchor="middle" fill="#4a4a4a" style="font-family:'Liberation Serif',serif">β</text><path d="M587.1 493.8V496.6" stroke="#222" stroke-width="1.1"/><text x="587.1" y="503.0" font-size="8" text-anchor="middle" fill="#4a4a4a" style="font-family:'Liberation Serif',serif">δ</text><text x="390.9" y="271.0" font-size="10.0" text-anchor="start" fill="#000" stroke="#000" stroke-width="0.22" >D</text><text x="512.9" y="518.3" font-size="10.0" text-anchor="middle" fill="#000" stroke="#000" stroke-width="0.22" >Parameter</text><text transform="translate(358.6 386.4) rotate(-90)" font-size="10.1" text-anchor="middle">Number of effective samples</text><path d="M390.8 331.4H633.7" stroke="#F7A655" stroke-width="1.1" stroke-dasharray="3.9 3.4"/><path d="M390.8 395.5H633.7" stroke="#5AA05A" stroke-width="1.1" stroke-dasharray="3.9 3.4"/><g fill="#FF7F00" fill-opacity="0.06"><circle cx="411.1" cy="480.9" r="1.8"/><circle cx="429.8" cy="479.6" r="1.8"/><circle cx="414.8" cy="479.4" r="1.8"/><circle cx="408.3" cy="479.3" r="1.8"/><circle cx="420.0" cy="479.7" r="1.8"/><circle cx="432.0" cy="481.6" r="1.8"/><circle cx="429.9" cy="483.4" r="1.8"/><circle cx="422.7" cy="478.3" r="1.8"/><circle cx="415.2" cy="483.3" r="1.8"/><circle cx="417.4" cy="482.7" r="1.8"/><circle cx="418.7" cy="480.7" r="1.8"/><circle cx="427.7" cy="481.5" r="1.8"/><circle cx="410.3" cy="481.6" r="1.8"/><circle cx="421.9" cy="479.0" r="1.8"/><circle cx="429.5" cy="478.6" r="1.8"/><circle cx="421.3" cy="477.6" r="1.8"/><circle cx="422.5" cy="477.4" r="1.8"/><circle cx="423.9" cy="480.2" r="1.8"/><circle cx="418.0" cy="483.1" r="1.8"/><circle cx="414.7" cy="484.3" r="1.8"/><circle cx="407.6" cy="482.4" r="1.8"/><circle cx="416.4" cy="480.1" r="1.8"/><circle cx="415.4" cy="483.0" r="1.8"/><circle cx="408.8" cy="481.3" r="1.8"/><circle cx="438.3" cy="481.7" r="1.8"/><circle cx="404.9" cy="481.3" r="1.8"/><circle cx="423.3" cy="478.7" r="1.8"/><circle cx="419.4" cy="482.3" r="1.8"/><circle cx="414.1" cy="482.0" r="1.8"/><circle cx="426.3" cy="478.8" r="1.8"/><circle cx="423.7" cy="477.2" r="1.8"/><circle cx="437.1" cy="482.5" r="1.8"/><circle cx="437.1" cy="481.8" r="1.8"/><circle cx="423.4" cy="479.1" r="1.8"/><circle cx="403.8" cy="480.7" r="1.8"/><circle cx="431.1" cy="482.5" r="1.8"/><circle cx="404.2" cy="480.1" r="1.8"/><circle cx="430.7" cy="479.0" r="1.8"/><circle cx="429.1" cy="477.9" r="1.8"/><circle cx="406.5" cy="480.8" r="1.8"/><circle cx="418.6" cy="478.0" r="1.8"/><circle cx="410.8" cy="483.2" r="1.8"/><circle cx="419.6" cy="479.8" r="1.8"/><circle cx="430.1" cy="482.1" r="1.8"/><circle cx="431.1" cy="481.3" r="1.8"/><circle cx="406.9" cy="480.5" r="1.8"/><circle cx="427.1" cy="482.9" r="1.8"/><circle cx="421.6" cy="477.2" r="1.8"/><circle cx="413.7" cy="481.6" r="1.8"/><circle cx="420.4" cy="484.3" r="1.8"/><circle cx="413.1" cy="482.6" r="1.8"/><circle cx="438.3" cy="480.0" r="1.8"/><circle cx="409.8" cy="483.2" r="1.8"/><circle cx="413.9" cy="479.6" r="1.8"/><circle cx="411.8" cy="483.3" r="1.8"/><circle cx="410.8" cy="481.8" r="1.8"/><circle cx="405.7" cy="479.7" r="1.8"/><circle cx="425.0" cy="482.5" r="1.8"/><circle cx="405.0" cy="482.0" r="1.8"/><circle cx="403.8" cy="480.9" r="1.8"/></g><path d="M402.8 481.3Q421.4 478.4 440.1 481.3Q421.4 484.2 402.8 481.3Z" fill="#FF7F00" stroke="#FF7F00" stroke-width="0.9"/><path d="M417.9 485.2H424.9M421.4 481.7V488.7M418.9 482.7L423.9 487.7M418.9 487.7L423.9 482.7" stroke="#FF8000" stroke-width="1.2" fill="none"/><g fill="#006400" fill-opacity="0.07"><circle cx="452.0" cy="303.0" r="2.4"/><circle cx="456.0" cy="301.5" r="2.4"/><circle cx="461.0" cy="303.0" r="2.4"/><circle cx="449.0" cy="309.0" r="2.4"/><circle cx="453.0" cy="308.0" r="2.4"/><circle cx="463.0" cy="308.0" r="2.4"/><circle cx="467.0" cy="307.0" r="2.4"/><circle cx="447.0" cy="315.0" r="2.4"/><circle cx="451.0" cy="313.0" r="2.4"/><circle cx="465.0" cy="314.0" r="2.4"/><circle cx="469.0" cy="316.0" r="2.4"/><circle cx="445.0" cy="321.0" r="2.4"/><circle cx="449.0" cy="320.0" r="2.4"/><circle cx="455.0" cy="319.0" r="2.4"/><circle cx="462.0" cy="320.0" r="2.4"/><circle cx="467.0" cy="321.0" r="2.4"/><circle cx="471.0" cy="322.0" r="2.4"/><circle cx="449.0" cy="326.0" r="2.4"/><circle cx="453.0" cy="327.0" r="2.4"/><circle cx="464.0" cy="326.0" r="2.4"/><circle cx="469.0" cy="327.0" r="2.4"/><circle cx="455.0" cy="331.0" r="2.4"/><circle cx="461.0" cy="331.0" r="2.4"/></g><path d="M458.0 301.0 L458.4 305.0 L458.7 312.0 L458.9 318.0 L458.6 325.0 L458.4 330.0 L458.0 333.2 L458.0 333.2 L457.6 330.0 L457.4 325.0 L457.1 318.0 L457.3 312.0 L457.6 305.0 L458.0 301.0Z" stroke="#1A7A1A" stroke-width="1.05" fill="none" fill-opacity="1.0" stroke-linejoin="round"/><path d="M454.5 330.2H461.5M458.0 326.7V333.7M455.5 327.7L460.5 332.7M455.5 332.7L460.5 327.7" stroke="#006400" stroke-width="1.2" fill="none"/><g fill="#FF7F00" fill-opacity="0.06"><circle cx="498.4" cy="430.7" r="1.8"/><circle cx="501.0" cy="425.0" r="1.8"/><circle cx="494.7" cy="425.0" r="1.8"/><circle cx="497.6" cy="430.1" r="1.8"/><circle cx="490.8" cy="423.2" r="1.8"/><circle cx="507.3" cy="427.6" r="1.8"/><circle cx="496.6" cy="428.4" r="1.8"/><circle cx="491.5" cy="426.0" r="1.8"/><circle cx="489.3" cy="427.7" r="1.8"/><circle cx="492.3" cy="426.5" r="1.8"/><circle cx="500.3" cy="427.3" r="1.8"/><circle cx="488.2" cy="425.4" r="1.8"/><circle cx="483.1" cy="428.7" r="1.8"/><circle cx="495.2" cy="425.3" r="1.8"/><circle cx="488.2" cy="431.2" r="1.8"/><circle cx="485.8" cy="428.3" r="1.8"/><circle cx="504.6" cy="430.0" r="1.8"/><circle cx="489.9" cy="425.5" r="1.8"/><circle cx="500.3" cy="428.5" r="1.8"/><circle cx="485.4" cy="427.7" r="1.8"/><circle cx="500.7" cy="431.2" r="1.8"/><circle cx="489.5" cy="424.6" r="1.8"/><circle cx="504.3" cy="430.0" r="1.8"/><circle cx="498.5" cy="426.4" r="1.8"/><circle cx="497.5" cy="424.2" r="1.8"/><circle cx="499.1" cy="428.7" r="1.8"/><circle cx="487.0" cy="428.5" r="1.8"/><circle cx="493.1" cy="424.5" r="1.8"/><circle cx="493.4" cy="432.1" r="1.8"/><circle cx="503.6" cy="426.1" r="1.8"/><circle cx="493.1" cy="429.0" r="1.8"/><circle cx="491.2" cy="430.8" r="1.8"/><circle cx="498.1" cy="432.4" r="1.8"/><circle cx="504.3" cy="429.0" r="1.8"/><circle cx="499.1" cy="427.6" r="1.8"/><circle cx="492.8" cy="431.9" r="1.8"/><circle cx="503.0" cy="427.1" r="1.8"/><circle cx="498.2" cy="427.6" r="1.8"/><circle cx="491.1" cy="426.3" r="1.8"/><circle cx="481.6" cy="428.3" r="1.8"/><circle cx="496.2" cy="429.1" r="1.8"/><circle cx="495.0" cy="426.8" r="1.8"/><circle cx="501.4" cy="429.3" r="1.8"/><circle cx="505.5" cy="428.5" r="1.8"/><circle cx="489.9" cy="427.0" r="1.8"/><circle cx="488.8" cy="428.5" r="1.8"/><circle cx="500.2" cy="426.3" r="1.8"/><circle cx="496.9" cy="427.5" r="1.8"/><circle cx="495.9" cy="425.3" r="1.8"/><circle cx="500.4" cy="429.2" r="1.8"/><circle cx="488.6" cy="428.3" r="1.8"/><circle cx="488.2" cy="427.8" r="1.8"/><circle cx="500.8" cy="427.1" r="1.8"/><circle cx="484.8" cy="429.1" r="1.8"/><circle cx="500.8" cy="430.0" r="1.8"/><circle cx="508.0" cy="428.2" r="1.8"/><circle cx="487.7" cy="431.2" r="1.8"/><circle cx="491.2" cy="432.2" r="1.8"/><circle cx="506.0" cy="427.1" r="1.8"/><circle cx="502.3" cy="428.4" r="1.8"/><circle cx="501.1" cy="427.3" r="1.8"/><circle cx="497.0" cy="432.5" r="1.8"/><circle cx="492.8" cy="423.2" r="1.8"/><circle cx="494.4" cy="433.0" r="1.8"/><circle cx="507.0" cy="427.4" r="1.8"/><circle cx="501.1" cy="428.4" r="1.8"/><circle cx="489.8" cy="431.8" r="1.8"/><circle cx="497.1" cy="427.5" r="1.8"/><circle cx="495.2" cy="424.7" r="1.8"/><circle cx="501.4" cy="430.6" r="1.8"/></g><path d="M494.7 421.5 L496.0 424.0 L497.3 427.5 L496.3 430.5 L494.7 432.9 L494.7 432.9 L493.1 430.5 L492.1 427.5 L493.4 424.0 L494.7 421.5Z" stroke="#F5821F" stroke-width="1.1" fill="none" fill-opacity="1.0" stroke-linejoin="round"/><path d="M491.2 468.2H498.2M494.7 464.7V471.7M492.2 465.7L497.2 470.7M492.2 470.7L497.2 465.7" stroke="#FF8000" stroke-width="1.2" fill="none"/><g fill="#006400" fill-opacity="0.06"><circle cx="518.6" cy="314.3" r="2.3"/><circle cx="524.5" cy="312.1" r="2.3"/><circle cx="524.7" cy="303.6" r="2.3"/><circle cx="524.5" cy="322.0" r="2.3"/><circle cx="531.1" cy="305.1" r="2.3"/><circle cx="527.3" cy="324.7" r="2.3"/><circle cx="533.4" cy="295.1" r="2.3"/><circle cx="524.1" cy="322.8" r="2.3"/><circle cx="528.2" cy="295.4" r="2.3"/><circle cx="543.4" cy="315.1" r="2.3"/><circle cx="528.1" cy="316.4" r="2.3"/><circle cx="529.3" cy="296.6" r="2.3"/><circle cx="530.6" cy="309.5" r="2.3"/><circle cx="539.5" cy="316.0" r="2.3"/><circle cx="542.4" cy="320.2" r="2.3"/><circle cx="532.7" cy="297.3" r="2.3"/><circle cx="536.5" cy="316.2" r="2.3"/><circle cx="535.4" cy="317.2" r="2.3"/><circle cx="542.8" cy="317.5" r="2.3"/><circle cx="529.3" cy="315.2" r="2.3"/><circle cx="540.2" cy="315.0" r="2.3"/><circle cx="522.3" cy="307.9" r="2.3"/><circle cx="523.8" cy="318.8" r="2.3"/><circle cx="539.8" cy="318.6" r="2.3"/><circle cx="532.3" cy="302.8" r="2.3"/><circle cx="527.4" cy="299.2" r="2.3"/><circle cx="529.4" cy="321.7" r="2.3"/><circle cx="523.3" cy="324.7" r="2.3"/><circle cx="531.1" cy="308.9" r="2.3"/><circle cx="526.7" cy="327.3" r="2.3"/><circle cx="525.8" cy="314.1" r="2.3"/><circle cx="536.1" cy="318.6" r="2.3"/><circle cx="534.3" cy="306.2" r="2.3"/><circle cx="525.1" cy="328.2" r="2.3"/><circle cx="534.8" cy="326.2" r="2.3"/><circle cx="528.9" cy="301.1" r="2.3"/><circle cx="539.4" cy="322.6" r="2.3"/><circle cx="527.0" cy="317.1" r="2.3"/><circle cx="523.4" cy="315.1" r="2.3"/><circle cx="528.2" cy="321.6" r="2.3"/><circle cx="530.7" cy="299.2" r="2.3"/><circle cx="521.8" cy="307.6" r="2.3"/><circle cx="530.9" cy="318.6" r="2.3"/><circle cx="521.3" cy="311.9" r="2.3"/><circle cx="530.7" cy="325.4" r="2.3"/></g><path d="M531.3 288.1 L531.6 295.0 L531.9 305.0 L532.3 314.0 L532.2 322.0 L531.9 330.0 L531.3 337.0 L531.3 337.0 L530.7 330.0 L530.4 322.0 L530.3 314.0 L530.7 305.0 L531.0 295.0 L531.3 288.1Z" stroke="#1A7A1A" stroke-width="1.1" fill="#1A7A1A" fill-opacity="1.0" stroke-linejoin="round"/><path d="M527.8 314.1H534.8M531.3 310.6V317.6M528.8 311.6L533.8 316.6M528.8 316.6L533.8 311.6" stroke="#006400" stroke-width="1.2" fill="none"/><g fill="#FF7F00" fill-opacity="0.1"><circle cx="581.6" cy="419.7" r="1.8"/><circle cx="570.5" cy="417.1" r="1.8"/><circle cx="566.1" cy="429.5" r="1.8"/><circle cx="573.5" cy="417.2" r="1.8"/><circle cx="563.3" cy="419.3" r="1.8"/><circle cx="571.1" cy="425.8" r="1.8"/><circle cx="569.5" cy="424.5" r="1.8"/><circle cx="579.3" cy="422.1" r="1.8"/><circle cx="564.8" cy="418.8" r="1.8"/><circle cx="562.0" cy="424.0" r="1.8"/><circle cx="566.0" cy="426.3" r="1.8"/><circle cx="575.1" cy="417.4" r="1.8"/><circle cx="565.7" cy="417.8" r="1.8"/><circle cx="569.8" cy="413.4" r="1.8"/><circle cx="562.9" cy="424.6" r="1.8"/><circle cx="561.2" cy="418.8" r="1.8"/><circle cx="568.7" cy="431.4" r="1.8"/><circle cx="575.5" cy="416.9" r="1.8"/><circle cx="572.9" cy="421.2" r="1.8"/><circle cx="565.0" cy="415.8" r="1.8"/><circle cx="559.0" cy="421.7" r="1.8"/><circle cx="565.8" cy="423.1" r="1.8"/><circle cx="567.8" cy="428.0" r="1.8"/><circle cx="566.4" cy="425.3" r="1.8"/><circle cx="567.4" cy="424.1" r="1.8"/><circle cx="562.0" cy="425.3" r="1.8"/><circle cx="562.1" cy="422.5" r="1.8"/><circle cx="571.2" cy="425.2" r="1.8"/><circle cx="566.3" cy="414.5" r="1.8"/><circle cx="574.1" cy="417.7" r="1.8"/><circle cx="569.5" cy="414.3" r="1.8"/><circle cx="567.0" cy="413.1" r="1.8"/><circle cx="569.4" cy="431.4" r="1.8"/><circle cx="573.0" cy="425.2" r="1.8"/><circle cx="561.7" cy="416.8" r="1.8"/><circle cx="567.2" cy="419.6" r="1.8"/><circle cx="569.4" cy="429.0" r="1.8"/><circle cx="569.8" cy="419.9" r="1.8"/><circle cx="565.8" cy="421.4" r="1.8"/><circle cx="567.6" cy="413.0" r="1.8"/><circle cx="570.6" cy="421.4" r="1.8"/><circle cx="568.7" cy="415.4" r="1.8"/><circle cx="569.3" cy="424.8" r="1.8"/><circle cx="573.1" cy="416.9" r="1.8"/><circle cx="563.9" cy="426.9" r="1.8"/><circle cx="568.7" cy="420.6" r="1.8"/><circle cx="556.6" cy="419.5" r="1.8"/><circle cx="559.8" cy="419.2" r="1.8"/><circle cx="571.8" cy="415.6" r="1.8"/><circle cx="566.8" cy="415.4" r="1.8"/><circle cx="570.3" cy="419.8" r="1.8"/><circle cx="572.5" cy="422.2" r="1.8"/><circle cx="578.8" cy="418.2" r="1.8"/><circle cx="576.4" cy="424.5" r="1.8"/><circle cx="568.6" cy="421.5" r="1.8"/><circle cx="566.9" cy="429.5" r="1.8"/><circle cx="569.4" cy="415.5" r="1.8"/><circle cx="573.2" cy="420.8" r="1.8"/><circle cx="558.6" cy="421.1" r="1.8"/><circle cx="575.1" cy="424.0" r="1.8"/><circle cx="569.1" cy="418.7" r="1.8"/><circle cx="555.6" cy="419.0" r="1.8"/><circle cx="571.5" cy="422.0" r="1.8"/><circle cx="572.3" cy="419.5" r="1.8"/><circle cx="556.0" cy="421.6" r="1.8"/><circle cx="560.0" cy="422.7" r="1.8"/><circle cx="572.1" cy="417.2" r="1.8"/><circle cx="563.4" cy="418.2" r="1.8"/><circle cx="570.1" cy="418.4" r="1.8"/><circle cx="568.7" cy="429.6" r="1.8"/><circle cx="578.2" cy="420.3" r="1.8"/><circle cx="566.3" cy="429.8" r="1.8"/><circle cx="565.8" cy="412.7" r="1.8"/><circle cx="576.7" cy="416.7" r="1.8"/><circle cx="566.4" cy="428.0" r="1.8"/><circle cx="575.2" cy="420.9" r="1.8"/><circle cx="555.8" cy="421.8" r="1.8"/><circle cx="569.1" cy="414.0" r="1.8"/><circle cx="577.5" cy="418.6" r="1.8"/><circle cx="566.5" cy="430.6" r="1.8"/><circle cx="571.2" cy="415.6" r="1.8"/><circle cx="576.9" cy="421.1" r="1.8"/><circle cx="575.1" cy="415.5" r="1.8"/><circle cx="569.3" cy="422.8" r="1.8"/><circle cx="565.6" cy="416.0" r="1.8"/><circle cx="566.5" cy="419.1" r="1.8"/><circle cx="573.7" cy="425.0" r="1.8"/><circle cx="567.6" cy="419.5" r="1.8"/><circle cx="570.6" cy="415.6" r="1.8"/><circle cx="563.9" cy="415.2" r="1.8"/><circle cx="565.2" cy="424.5" r="1.8"/><circle cx="577.6" cy="421.8" r="1.8"/><circle cx="575.0" cy="419.0" r="1.8"/><circle cx="559.8" cy="423.4" r="1.8"/><circle cx="570.0" cy="423.6" r="1.8"/><circle cx="566.3" cy="414.4" r="1.8"/><circle cx="576.1" cy="419.7" r="1.8"/><circle cx="568.4" cy="423.2" r="1.8"/><circle cx="570.1" cy="412.8" r="1.8"/><circle cx="569.0" cy="429.0" r="1.8"/><circle cx="567.2" cy="416.5" r="1.8"/><circle cx="574.7" cy="423.1" r="1.8"/><circle cx="569.5" cy="430.8" r="1.8"/><circle cx="571.0" cy="419.8" r="1.8"/><circle cx="568.4" cy="429.7" r="1.8"/><circle cx="572.9" cy="414.5" r="1.8"/><circle cx="573.0" cy="415.6" r="1.8"/><circle cx="565.0" cy="414.5" r="1.8"/><circle cx="558.5" cy="421.9" r="1.8"/><circle cx="575.8" cy="424.6" r="1.8"/><circle cx="575.2" cy="423.1" r="1.8"/><circle cx="569.3" cy="421.9" r="1.8"/><circle cx="567.9" cy="431.4" r="1.8"/><circle cx="579.8" cy="419.8" r="1.8"/><circle cx="558.5" cy="420.1" r="1.8"/><circle cx="578.4" cy="420.1" r="1.8"/><circle cx="561.5" cy="425.2" r="1.8"/><circle cx="571.2" cy="416.9" r="1.8"/><circle cx="575.9" cy="421.2" r="1.8"/><circle cx="574.3" cy="415.7" r="1.8"/><circle cx="565.3" cy="419.7" r="1.8"/><circle cx="567.8" cy="418.4" r="1.8"/><circle cx="575.6" cy="421.0" r="1.8"/><circle cx="564.0" cy="419.6" r="1.8"/><circle cx="566.3" cy="423.6" r="1.8"/><circle cx="556.9" cy="421.0" r="1.8"/><circle cx="570.6" cy="415.2" r="1.8"/><circle cx="573.3" cy="414.9" r="1.8"/><circle cx="569.1" cy="422.4" r="1.8"/><circle cx="571.3" cy="422.1" r="1.8"/><circle cx="562.1" cy="420.8" r="1.8"/><circle cx="574.4" cy="422.7" r="1.8"/><circle cx="570.3" cy="425.1" r="1.8"/><circle cx="580.4" cy="421.8" r="1.8"/><circle cx="575.7" cy="417.2" r="1.8"/><circle cx="570.0" cy="425.8" r="1.8"/><circle cx="571.3" cy="423.4" r="1.8"/><circle cx="555.4" cy="421.2" r="1.8"/><circle cx="568.4" cy="417.3" r="1.8"/><circle cx="575.7" cy="424.4" r="1.8"/><circle cx="574.2" cy="419.4" r="1.8"/><circle cx="565.9" cy="414.2" r="1.8"/><circle cx="563.6" cy="421.4" r="1.8"/><circle cx="571.7" cy="414.6" r="1.8"/><circle cx="561.6" cy="418.2" r="1.8"/><circle cx="562.8" cy="414.5" r="1.8"/><circle cx="566.1" cy="421.5" r="1.8"/><circle cx="573.8" cy="416.5" r="1.8"/><circle cx="571.7" cy="416.8" r="1.8"/><circle cx="567.1" cy="415.5" r="1.8"/><circle cx="564.3" cy="422.8" r="1.8"/><circle cx="576.0" cy="421.8" r="1.8"/><circle cx="562.8" cy="415.6" r="1.8"/><circle cx="569.5" cy="419.6" r="1.8"/><circle cx="566.3" cy="417.9" r="1.8"/><circle cx="567.1" cy="421.8" r="1.8"/><circle cx="573.8" cy="420.3" r="1.8"/><circle cx="578.3" cy="421.8" r="1.8"/><circle cx="565.9" cy="429.3" r="1.8"/><circle cx="562.4" cy="415.5" r="1.8"/><circle cx="579.8" cy="420.3" r="1.8"/><circle cx="580.3" cy="419.5" r="1.8"/><circle cx="561.3" cy="424.7" r="1.8"/><circle cx="564.6" cy="419.6" r="1.8"/><circle cx="555.5" cy="420.0" r="1.8"/><circle cx="572.2" cy="414.9" r="1.8"/><circle cx="578.7" cy="418.2" r="1.8"/><circle cx="565.8" cy="421.4" r="1.8"/><circle cx="571.4" cy="413.5" r="1.8"/><circle cx="563.5" cy="421.1" r="1.8"/><circle cx="572.0" cy="421.6" r="1.8"/><circle cx="582.0" cy="420.0" r="1.8"/><circle cx="562.9" cy="414.6" r="1.8"/><circle cx="565.9" cy="423.0" r="1.8"/><circle cx="556.7" cy="421.0" r="1.8"/><circle cx="567.7" cy="415.6" r="1.8"/><circle cx="581.1" cy="421.5" r="1.8"/><circle cx="576.6" cy="420.2" r="1.8"/><circle cx="557.4" cy="422.2" r="1.8"/><circle cx="560.3" cy="418.8" r="1.8"/><circle cx="581.1" cy="421.1" r="1.8"/><circle cx="579.4" cy="422.4" r="1.8"/><circle cx="554.4" cy="420.2" r="1.8"/><circle cx="564.6" cy="415.4" r="1.8"/><circle cx="559.7" cy="420.7" r="1.8"/><circle cx="575.0" cy="419.3" r="1.8"/><circle cx="562.8" cy="423.0" r="1.8"/><circle cx="565.8" cy="418.7" r="1.8"/><circle cx="570.3" cy="424.9" r="1.8"/><circle cx="569.7" cy="427.2" r="1.8"/><circle cx="560.4" cy="417.9" r="1.8"/><circle cx="557.1" cy="420.8" r="1.8"/><circle cx="561.4" cy="422.5" r="1.8"/><circle cx="573.5" cy="421.3" r="1.8"/><circle cx="569.0" cy="426.5" r="1.8"/><circle cx="571.8" cy="419.8" r="1.8"/><circle cx="566.4" cy="422.8" r="1.8"/><circle cx="577.5" cy="422.9" r="1.8"/><circle cx="564.9" cy="422.0" r="1.8"/><circle cx="579.6" cy="418.6" r="1.8"/><circle cx="576.5" cy="423.6" r="1.8"/><circle cx="571.9" cy="414.4" r="1.8"/><circle cx="571.5" cy="415.4" r="1.8"/><circle cx="568.6" cy="430.2" r="1.8"/><circle cx="570.5" cy="423.9" r="1.8"/><circle cx="568.3" cy="416.3" r="1.8"/><circle cx="562.1" cy="415.6" r="1.8"/><circle cx="570.2" cy="425.6" r="1.8"/><circle cx="567.4" cy="429.8" r="1.8"/><circle cx="576.3" cy="417.1" r="1.8"/><circle cx="559.2" cy="417.7" r="1.8"/><circle cx="572.2" cy="415.1" r="1.8"/><circle cx="573.9" cy="418.4" r="1.8"/><circle cx="562.2" cy="423.7" r="1.8"/><circle cx="562.5" cy="418.8" r="1.8"/><circle cx="558.2" cy="423.2" r="1.8"/><circle cx="582.6" cy="420.6" r="1.8"/><circle cx="567.6" cy="422.0" r="1.8"/><circle cx="577.0" cy="423.4" r="1.8"/><circle cx="579.1" cy="421.4" r="1.8"/><circle cx="569.2" cy="417.7" r="1.8"/><circle cx="568.4" cy="414.2" r="1.8"/><circle cx="570.2" cy="414.3" r="1.8"/><circle cx="567.4" cy="429.9" r="1.8"/><circle cx="577.9" cy="419.9" r="1.8"/><circle cx="564.8" cy="420.2" r="1.8"/><circle cx="570.8" cy="418.6" r="1.8"/><circle cx="574.9" cy="417.7" r="1.8"/><circle cx="563.3" cy="424.4" r="1.8"/><circle cx="574.9" cy="421.7" r="1.8"/><circle cx="572.8" cy="421.6" r="1.8"/><circle cx="566.7" cy="414.6" r="1.8"/><circle cx="560.7" cy="423.2" r="1.8"/><circle cx="558.9" cy="420.9" r="1.8"/><circle cx="571.2" cy="424.7" r="1.8"/><circle cx="564.9" cy="424.7" r="1.8"/><circle cx="567.6" cy="430.6" r="1.8"/><circle cx="561.8" cy="421.6" r="1.8"/><circle cx="568.8" cy="423.9" r="1.8"/><circle cx="564.3" cy="426.2" r="1.8"/></g><path d="M568.2 411.7 L569.5 415.0 L570.6 420.0 L569.8 425.0 L568.2 432.0 L568.2 432.0 L566.6 425.0 L565.8 420.0 L566.9 415.0 L568.2 411.7Z" stroke="#FF7F00" stroke-width="1.2" fill="#FF7F00" fill-opacity="1.0" stroke-linejoin="round"/><path d="M564.7 467.0H571.7M568.2 463.5V470.5M565.7 464.5L570.7 469.5M565.7 469.5L570.7 464.5" stroke="#FF8000" stroke-width="1.2" fill="none"/><path d="M604.6 321L611 327L619.5 338.8L612 348L606 356L603 356L597 348L589.5 338.8L598 327Z" fill="#9CC49C" fill-opacity="0.5"/><g fill="#006400" fill-opacity="0.055"><circle cx="594.7" cy="344.3" r="1.8"/><circle cx="599.5" cy="343.4" r="1.8"/><circle cx="618.2" cy="340.3" r="1.8"/><circle cx="594.3" cy="341.5" r="1.8"/><circle cx="602.0" cy="321.3" r="1.8"/><circle cx="615.9" cy="339.8" r="1.8"/><circle cx="594.7" cy="343.7" r="1.8"/><circle cx="602.5" cy="323.5" r="1.8"/><circle cx="608.7" cy="342.7" r="1.8"/><circle cx="595.4" cy="338.2" r="1.8"/><circle cx="604.9" cy="332.5" r="1.8"/><circle cx="605.7" cy="325.7" r="1.8"/><circle cx="610.7" cy="335.8" r="1.8"/><circle cx="612.4" cy="338.9" r="1.8"/><circle cx="595.8" cy="343.3" r="1.8"/><circle cx="603.0" cy="330.4" r="1.8"/><circle cx="599.0" cy="333.9" r="1.8"/><circle cx="611.3" cy="330.6" r="1.8"/><circle cx="597.0" cy="341.4" r="1.8"/><circle cx="598.9" cy="333.4" r="1.8"/><circle cx="596.1" cy="332.5" r="1.8"/><circle cx="610.2" cy="324.3" r="1.8"/><circle cx="605.2" cy="354.5" r="1.8"/><circle cx="599.1" cy="342.5" r="1.8"/><circle cx="609.0" cy="336.7" r="1.8"/><circle cx="612.9" cy="348.0" r="1.8"/><circle cx="601.6" cy="329.8" r="1.8"/><circle cx="609.9" cy="327.2" r="1.8"/><circle cx="606.0" cy="350.1" r="1.8"/><circle cx="608.5" cy="329.7" r="1.8"/><circle cx="609.3" cy="344.9" r="1.8"/><circle cx="605.9" cy="330.4" r="1.8"/><circle cx="601.9" cy="341.0" r="1.8"/><circle cx="612.4" cy="345.2" r="1.8"/><circle cx="607.4" cy="334.0" r="1.8"/><circle cx="605.3" cy="336.3" r="1.8"/><circle cx="604.0" cy="335.1" r="1.8"/><circle cx="607.8" cy="350.4" r="1.8"/><circle cx="613.3" cy="334.8" r="1.8"/><circle cx="608.3" cy="341.3" r="1.8"/><circle cx="596.4" cy="326.9" r="1.8"/><circle cx="608.5" cy="333.4" r="1.8"/><circle cx="593.8" cy="335.0" r="1.8"/><circle cx="615.3" cy="332.8" r="1.8"/><circle cx="601.5" cy="353.1" r="1.8"/><circle cx="593.3" cy="333.2" r="1.8"/><circle cx="612.0" cy="347.7" r="1.8"/><circle cx="606.4" cy="324.4" r="1.8"/><circle cx="596.3" cy="326.6" r="1.8"/><circle cx="609.7" cy="334.2" r="1.8"/><circle cx="613.2" cy="345.7" r="1.8"/><circle cx="617.2" cy="339.6" r="1.8"/><circle cx="607.0" cy="344.2" r="1.8"/><circle cx="598.9" cy="346.0" r="1.8"/><circle cx="616.0" cy="337.1" r="1.8"/><circle cx="596.4" cy="328.3" r="1.8"/><circle cx="596.7" cy="326.3" r="1.8"/><circle cx="595.7" cy="330.9" r="1.8"/><circle cx="608.2" cy="339.9" r="1.8"/><circle cx="602.1" cy="334.5" r="1.8"/><circle cx="599.9" cy="330.4" r="1.8"/><circle cx="609.7" cy="346.7" r="1.8"/><circle cx="602.9" cy="349.7" r="1.8"/><circle cx="613.3" cy="329.5" r="1.8"/><circle cx="615.2" cy="345.1" r="1.8"/><circle cx="608.7" cy="348.0" r="1.8"/><circle cx="613.0" cy="344.1" r="1.8"/><circle cx="596.7" cy="333.8" r="1.8"/><circle cx="615.7" cy="339.7" r="1.8"/><circle cx="608.5" cy="342.0" r="1.8"/><circle cx="609.4" cy="338.9" r="1.8"/><circle cx="606.4" cy="320.8" r="1.8"/><circle cx="605.6" cy="334.5" r="1.8"/><circle cx="591.1" cy="336.7" r="1.8"/><circle cx="608.8" cy="344.8" r="1.8"/><circle cx="607.5" cy="343.1" r="1.8"/><circle cx="610.9" cy="326.6" r="1.8"/><circle cx="605.1" cy="333.1" r="1.8"/><circle cx="593.5" cy="339.9" r="1.8"/><circle cx="607.3" cy="333.1" r="1.8"/><circle cx="596.7" cy="333.3" r="1.8"/><circle cx="597.8" cy="343.9" r="1.8"/><circle cx="605.0" cy="330.3" r="1.8"/><circle cx="600.0" cy="332.3" r="1.8"/><circle cx="592.2" cy="336.9" r="1.8"/><circle cx="609.0" cy="335.1" r="1.8"/><circle cx="617.0" cy="341.7" r="1.8"/><circle cx="616.1" cy="338.0" r="1.8"/><circle cx="600.8" cy="329.7" r="1.8"/><circle cx="603.4" cy="345.9" r="1.8"/><circle cx="616.8" cy="336.4" r="1.8"/><circle cx="592.2" cy="340.1" r="1.8"/><circle cx="608.2" cy="336.7" r="1.8"/><circle cx="597.3" cy="334.2" r="1.8"/><circle cx="609.8" cy="322.8" r="1.8"/><circle cx="613.9" cy="331.3" r="1.8"/><circle cx="609.4" cy="343.1" r="1.8"/><circle cx="601.3" cy="333.9" r="1.8"/><circle cx="616.4" cy="333.0" r="1.8"/><circle cx="601.9" cy="324.3" r="1.8"/><circle cx="610.5" cy="324.4" r="1.8"/><circle cx="614.6" cy="330.6" r="1.8"/><circle cx="599.9" cy="328.1" r="1.8"/><circle cx="608.1" cy="352.5" r="1.8"/><circle cx="616.6" cy="342.6" r="1.8"/><circle cx="605.7" cy="326.1" r="1.8"/><circle cx="595.8" cy="337.8" r="1.8"/><circle cx="604.9" cy="329.3" r="1.8"/><circle cx="614.9" cy="339.1" r="1.8"/><circle cx="611.5" cy="326.0" r="1.8"/><circle cx="603.8" cy="341.1" r="1.8"/><circle cx="605.5" cy="335.4" r="1.8"/><circle cx="610.7" cy="349.8" r="1.8"/><circle cx="610.2" cy="326.8" r="1.8"/><circle cx="613.1" cy="341.8" r="1.8"/><circle cx="610.3" cy="324.7" r="1.8"/><circle cx="605.7" cy="354.2" r="1.8"/><circle cx="606.3" cy="337.3" r="1.8"/><circle cx="608.3" cy="328.0" r="1.8"/><circle cx="611.1" cy="324.8" r="1.8"/><circle cx="603.5" cy="342.5" r="1.8"/><circle cx="609.8" cy="329.8" r="1.8"/><circle cx="602.5" cy="342.4" r="1.8"/><circle cx="597.0" cy="326.0" r="1.8"/><circle cx="605.9" cy="345.0" r="1.8"/><circle cx="595.2" cy="330.3" r="1.8"/><circle cx="607.3" cy="340.4" r="1.8"/><circle cx="604.5" cy="341.8" r="1.8"/><circle cx="597.0" cy="337.4" r="1.8"/><circle cx="599.7" cy="341.6" r="1.8"/><circle cx="597.4" cy="341.2" r="1.8"/><circle cx="596.3" cy="331.2" r="1.8"/><circle cx="598.1" cy="341.6" r="1.8"/><circle cx="612.2" cy="329.1" r="1.8"/><circle cx="613.2" cy="345.5" r="1.8"/><circle cx="595.6" cy="344.9" r="1.8"/><circle cx="602.3" cy="351.7" r="1.8"/><circle cx="614.7" cy="343.3" r="1.8"/><circle cx="608.2" cy="348.4" r="1.8"/><circle cx="612.2" cy="325.6" r="1.8"/><circle cx="594.9" cy="330.0" r="1.8"/><circle cx="597.9" cy="331.1" r="1.8"/><circle cx="601.1" cy="351.8" r="1.8"/><circle cx="610.1" cy="335.5" r="1.8"/><circle cx="607.5" cy="342.7" r="1.8"/><circle cx="608.6" cy="331.1" r="1.8"/><circle cx="604.6" cy="333.8" r="1.8"/><circle cx="606.4" cy="344.0" r="1.8"/><circle cx="598.5" cy="326.0" r="1.8"/><circle cx="605.0" cy="326.4" r="1.8"/><circle cx="609.0" cy="351.1" r="1.8"/><circle cx="613.5" cy="328.5" r="1.8"/><circle cx="603.2" cy="338.5" r="1.8"/><circle cx="603.1" cy="333.5" r="1.8"/><circle cx="593.9" cy="330.6" r="1.8"/><circle cx="602.4" cy="336.3" r="1.8"/><circle cx="601.0" cy="344.7" r="1.8"/><circle cx="608.6" cy="327.4" r="1.8"/><circle cx="603.3" cy="349.7" r="1.8"/><circle cx="604.6" cy="325.1" r="1.8"/><circle cx="592.0" cy="338.6" r="1.8"/><circle cx="606.4" cy="342.7" r="1.8"/><circle cx="604.9" cy="323.4" r="1.8"/><circle cx="609.4" cy="331.1" r="1.8"/><circle cx="594.8" cy="333.5" r="1.8"/><circle cx="606.5" cy="328.0" r="1.8"/><circle cx="610.4" cy="343.7" r="1.8"/><circle cx="618.3" cy="339.1" r="1.8"/><circle cx="612.0" cy="347.7" r="1.8"/><circle cx="599.6" cy="344.4" r="1.8"/><circle cx="614.1" cy="335.9" r="1.8"/><circle cx="600.0" cy="336.4" r="1.8"/><circle cx="601.5" cy="336.9" r="1.8"/><circle cx="604.4" cy="345.2" r="1.8"/><circle cx="602.9" cy="346.7" r="1.8"/><circle cx="606.3" cy="349.3" r="1.8"/><circle cx="611.1" cy="331.1" r="1.8"/><circle cx="610.7" cy="330.8" r="1.8"/><circle cx="609.1" cy="349.0" r="1.8"/><circle cx="606.6" cy="342.8" r="1.8"/><circle cx="609.0" cy="335.3" r="1.8"/><circle cx="600.1" cy="326.8" r="1.8"/><circle cx="609.3" cy="339.7" r="1.8"/><circle cx="600.9" cy="327.2" r="1.8"/><circle cx="594.6" cy="343.7" r="1.8"/><circle cx="603.6" cy="336.6" r="1.8"/><circle cx="605.4" cy="323.8" r="1.8"/><circle cx="593.4" cy="335.1" r="1.8"/><circle cx="612.3" cy="329.1" r="1.8"/><circle cx="606.8" cy="334.9" r="1.8"/><circle cx="609.5" cy="339.8" r="1.8"/><circle cx="604.9" cy="345.4" r="1.8"/><circle cx="599.6" cy="342.0" r="1.8"/><circle cx="604.2" cy="337.3" r="1.8"/><circle cx="602.5" cy="322.2" r="1.8"/><circle cx="593.2" cy="337.1" r="1.8"/><circle cx="596.6" cy="343.1" r="1.8"/><circle cx="606.5" cy="325.0" r="1.8"/><circle cx="594.6" cy="334.3" r="1.8"/><circle cx="611.9" cy="333.1" r="1.8"/><circle cx="601.0" cy="353.5" r="1.8"/><circle cx="598.6" cy="337.9" r="1.8"/><circle cx="603.3" cy="344.3" r="1.8"/><circle cx="605.5" cy="337.1" r="1.8"/><circle cx="599.9" cy="333.1" r="1.8"/><circle cx="604.7" cy="350.2" r="1.8"/><circle cx="605.2" cy="337.6" r="1.8"/><circle cx="603.1" cy="329.7" r="1.8"/><circle cx="604.1" cy="339.2" r="1.8"/><circle cx="613.0" cy="340.1" r="1.8"/><circle cx="594.7" cy="341.6" r="1.8"/><circle cx="611.8" cy="346.6" r="1.8"/><circle cx="601.5" cy="353.8" r="1.8"/><circle cx="590.7" cy="337.9" r="1.8"/><circle cx="606.3" cy="350.2" r="1.8"/><circle cx="604.2" cy="345.4" r="1.8"/><circle cx="607.9" cy="346.6" r="1.8"/><circle cx="601.9" cy="330.3" r="1.8"/><circle cx="609.6" cy="347.1" r="1.8"/><circle cx="593.9" cy="332.9" r="1.8"/><circle cx="606.2" cy="352.9" r="1.8"/><circle cx="605.7" cy="354.3" r="1.8"/><circle cx="604.6" cy="330.5" r="1.8"/><circle cx="593.8" cy="344.2" r="1.8"/><circle cx="608.8" cy="323.0" r="1.8"/><circle cx="603.2" cy="345.3" r="1.8"/><circle cx="617.7" cy="336.2" r="1.8"/><circle cx="605.3" cy="320.3" r="1.8"/><circle cx="597.0" cy="343.0" r="1.8"/><circle cx="597.0" cy="330.3" r="1.8"/><circle cx="607.3" cy="353.5" r="1.8"/><circle cx="610.2" cy="327.1" r="1.8"/><circle cx="599.1" cy="343.9" r="1.8"/><circle cx="616.5" cy="333.8" r="1.8"/><circle cx="605.5" cy="332.6" r="1.8"/><circle cx="602.4" cy="339.7" r="1.8"/><circle cx="593.0" cy="338.5" r="1.8"/><circle cx="597.4" cy="331.8" r="1.8"/><circle cx="597.2" cy="347.9" r="1.8"/><circle cx="611.0" cy="349.8" r="1.8"/><circle cx="615.1" cy="339.7" r="1.8"/><circle cx="617.7" cy="336.8" r="1.8"/><circle cx="609.0" cy="328.0" r="1.8"/><circle cx="605.0" cy="344.0" r="1.8"/><circle cx="595.1" cy="339.8" r="1.8"/><circle cx="609.9" cy="333.7" r="1.8"/><circle cx="606.7" cy="330.2" r="1.8"/><circle cx="601.9" cy="350.6" r="1.8"/><circle cx="603.3" cy="337.2" r="1.8"/><circle cx="592.0" cy="338.9" r="1.8"/><circle cx="604.7" cy="330.2" r="1.8"/><circle cx="590.7" cy="339.0" r="1.8"/><circle cx="615.2" cy="344.3" r="1.8"/><circle cx="610.0" cy="338.5" r="1.8"/><circle cx="597.5" cy="342.8" r="1.8"/><circle cx="611.7" cy="334.0" r="1.8"/><circle cx="616.3" cy="336.6" r="1.8"/><circle cx="595.9" cy="332.2" r="1.8"/><circle cx="607.0" cy="326.8" r="1.8"/><circle cx="598.9" cy="346.8" r="1.8"/></g><path d="M604.6 307.3 L605.0 315.0 L605.2 325.0 L605.5 331.0 L606.0 337.0 L606.0 345.0 L605.5 352.0 L604.6 358.6 L604.6 358.6 L603.7 352.0 L603.2 345.0 L603.2 337.0 L603.7 331.0 L604.0 325.0 L604.2 315.0 L604.6 307.3Z" stroke="#1A7A1A" stroke-width="1.1" fill="none" fill-opacity="1.0" stroke-linejoin="round"/><path d="M601.1 331.3H608.1M604.6 327.8V334.8M602.1 328.8L607.1 333.8M602.1 333.8L607.1 328.8" stroke="#006400" stroke-width="1.2" fill="none"/><text x="666.2" y="377.1" font-size="10.1" text-anchor="start" fill="#000" stroke="#000" stroke-width="0.22" >Package</text><rect x="666.2" y="384.1" width="14.8" height="14.7" fill="#FDC08F"/><rect x="666.2" y="399.9" width="14.8" height="14.7" fill="#8DB88D"/><text x="687.4" y="394.7" font-size="8.1" text-anchor="start" fill="#000" stroke="#000" stroke-width="0.22" >Brms</text><text x="687.4" y="410.5" font-size="8.1" text-anchor="start" fill="#000" stroke="#000" stroke-width="0.22" >Rstan</text>
</svg>
</body></html>
